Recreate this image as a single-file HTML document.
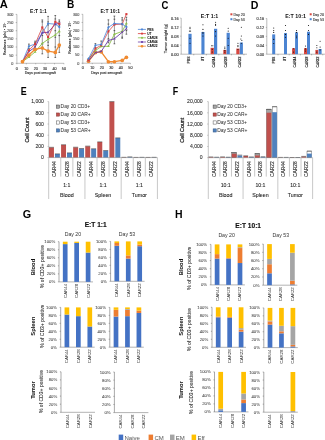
<!DOCTYPE html>
<html><head><meta charset="utf-8"><style>
html,body{margin:0;padding:0;background:#fff;width:325px;height:440px;overflow:hidden}
svg{display:block;will-change:transform}
text{font-family:"Liberation Sans",sans-serif}
</style></head><body>
<svg width="325" height="440" viewBox="0 0 325 440">
<rect x="0" y="0" width="325" height="440" fill="#fff"/>
<line x1="16.9" y1="14.4" x2="16.9" y2="63.3" stroke="#8a8a8a" stroke-width="0.55"/>
<line x1="16.9" y1="63.3" x2="63.9" y2="63.3" stroke="#8a8a8a" stroke-width="0.55"/>
<line x1="15.7" y1="63.3" x2="16.9" y2="63.3" stroke="#666" stroke-width="0.45"/>
<text x="13.4" y="64.7" font-size="3.8" text-anchor="end" fill="#444" stroke="#444" stroke-width="0.08">0</text>
<line x1="15.7" y1="55.15" x2="16.9" y2="55.15" stroke="#666" stroke-width="0.45"/>
<text x="13.4" y="56.55" font-size="3.8" text-anchor="end" fill="#444" stroke="#444" stroke-width="0.08">50</text>
<line x1="15.7" y1="47" x2="16.9" y2="47" stroke="#666" stroke-width="0.45"/>
<text x="13.4" y="48.4" font-size="3.8" text-anchor="end" fill="#444" stroke="#444" stroke-width="0.08">100</text>
<line x1="15.7" y1="38.85" x2="16.9" y2="38.85" stroke="#666" stroke-width="0.45"/>
<text x="13.4" y="40.25" font-size="3.8" text-anchor="end" fill="#444" stroke="#444" stroke-width="0.08">150</text>
<line x1="15.7" y1="30.7" x2="16.9" y2="30.7" stroke="#666" stroke-width="0.45"/>
<text x="13.4" y="32.1" font-size="3.8" text-anchor="end" fill="#444" stroke="#444" stroke-width="0.08">200</text>
<line x1="15.7" y1="22.55" x2="16.9" y2="22.55" stroke="#666" stroke-width="0.45"/>
<text x="13.4" y="23.95" font-size="3.8" text-anchor="end" fill="#444" stroke="#444" stroke-width="0.08">250</text>
<line x1="15.7" y1="14.4" x2="16.9" y2="14.4" stroke="#666" stroke-width="0.45"/>
<text x="13.4" y="15.8" font-size="3.8" text-anchor="end" fill="#444" stroke="#444" stroke-width="0.08">300</text>
<line x1="16.9" y1="63.3" x2="16.9" y2="64.3" stroke="#666" stroke-width="0.45"/>
<text x="16.9" y="69.5" font-size="3.7" text-anchor="middle" fill="#333" stroke="#333" stroke-width="0.12">0</text>
<line x1="26.3" y1="63.3" x2="26.3" y2="64.3" stroke="#666" stroke-width="0.45"/>
<text x="26.3" y="69.5" font-size="3.7" text-anchor="middle" fill="#333" stroke="#333" stroke-width="0.12">10</text>
<line x1="35.7" y1="63.3" x2="35.7" y2="64.3" stroke="#666" stroke-width="0.45"/>
<text x="35.7" y="69.5" font-size="3.7" text-anchor="middle" fill="#333" stroke="#333" stroke-width="0.12">20</text>
<line x1="45.1" y1="63.3" x2="45.1" y2="64.3" stroke="#666" stroke-width="0.45"/>
<text x="45.1" y="69.5" font-size="3.7" text-anchor="middle" fill="#333" stroke="#333" stroke-width="0.12">30</text>
<line x1="54.5" y1="63.3" x2="54.5" y2="64.3" stroke="#666" stroke-width="0.45"/>
<text x="54.5" y="69.5" font-size="3.7" text-anchor="middle" fill="#333" stroke="#333" stroke-width="0.12">40</text>
<line x1="63.9" y1="63.3" x2="63.9" y2="64.3" stroke="#666" stroke-width="0.45"/>
<text x="63.9" y="69.5" font-size="3.7" text-anchor="middle" fill="#333" stroke="#333" stroke-width="0.12">50</text>
<text x="40.4" y="74.1" font-size="3.5" text-anchor="middle" fill="#222" stroke="#222" stroke-width="0.1">Days post xenograft</text>
<text x="38.4" y="12.6" font-size="5" text-anchor="middle" font-weight="bold" fill="#111">E:T 1:1</text>
<text x="5.6" y="38.7" font-size="3.5" text-anchor="middle" font-weight="bold" fill="#222" transform="rotate(-90 5.6 38.7)">Radiance (p/s) • 10⁷</text>
<line x1="28.9" y1="44.07" x2="28.9" y2="48.47" stroke="#555" stroke-width="0.6"/>
<line x1="28.05" y1="44.07" x2="29.75" y2="44.07" stroke="#111" stroke-width="0.6"/>
<line x1="28.05" y1="48.47" x2="29.75" y2="48.47" stroke="#111" stroke-width="0.6"/>
<line x1="35.1" y1="41.13" x2="35.1" y2="46.18" stroke="#555" stroke-width="0.6"/>
<line x1="34.25" y1="41.13" x2="35.95" y2="41.13" stroke="#111" stroke-width="0.6"/>
<line x1="34.25" y1="42.44" x2="35.95" y2="42.44" stroke="#111" stroke-width="0.6"/>
<line x1="34.25" y1="46.18" x2="35.95" y2="46.18" stroke="#111" stroke-width="0.6"/>
<line x1="42.3" y1="19.94" x2="42.3" y2="53.85" stroke="#555" stroke-width="0.6"/>
<line x1="41.45" y1="19.94" x2="43.15" y2="19.94" stroke="#111" stroke-width="0.6"/>
<line x1="41.45" y1="21.9" x2="43.15" y2="21.9" stroke="#111" stroke-width="0.6"/>
<line x1="41.45" y1="35.59" x2="43.15" y2="35.59" stroke="#111" stroke-width="0.6"/>
<line x1="41.45" y1="43.74" x2="43.15" y2="43.74" stroke="#111" stroke-width="0.6"/>
<line x1="41.45" y1="53.85" x2="43.15" y2="53.85" stroke="#111" stroke-width="0.6"/>
<line x1="48.1" y1="16.36" x2="48.1" y2="57.43" stroke="#555" stroke-width="0.6"/>
<line x1="47.25" y1="16.36" x2="48.95" y2="16.36" stroke="#111" stroke-width="0.6"/>
<line x1="47.25" y1="21.9" x2="48.95" y2="21.9" stroke="#111" stroke-width="0.6"/>
<line x1="47.25" y1="24.99" x2="48.95" y2="24.99" stroke="#111" stroke-width="0.6"/>
<line x1="47.25" y1="42.11" x2="48.95" y2="42.11" stroke="#111" stroke-width="0.6"/>
<line x1="47.25" y1="45.37" x2="48.95" y2="45.37" stroke="#111" stroke-width="0.6"/>
<line x1="47.25" y1="57.43" x2="48.95" y2="57.43" stroke="#111" stroke-width="0.6"/>
<line x1="55.3" y1="15.54" x2="55.3" y2="57.43" stroke="#555" stroke-width="0.6"/>
<line x1="54.45" y1="15.54" x2="56.15" y2="15.54" stroke="#111" stroke-width="0.6"/>
<line x1="54.45" y1="18.96" x2="56.15" y2="18.96" stroke="#111" stroke-width="0.6"/>
<line x1="54.45" y1="30.7" x2="56.15" y2="30.7" stroke="#111" stroke-width="0.6"/>
<line x1="54.45" y1="37.22" x2="56.15" y2="37.22" stroke="#111" stroke-width="0.6"/>
<line x1="54.45" y1="47" x2="56.15" y2="47" stroke="#111" stroke-width="0.6"/>
<line x1="54.45" y1="57.43" x2="56.15" y2="57.43" stroke="#111" stroke-width="0.6"/>
<line x1="59.3" y1="19.94" x2="59.3" y2="52.38" stroke="#555" stroke-width="0.6"/>
<line x1="58.45" y1="19.94" x2="60.15" y2="19.94" stroke="#111" stroke-width="0.6"/>
<line x1="58.45" y1="21.73" x2="60.15" y2="21.73" stroke="#111" stroke-width="0.6"/>
<line x1="58.45" y1="25.81" x2="60.15" y2="25.81" stroke="#111" stroke-width="0.6"/>
<line x1="58.45" y1="35.59" x2="60.15" y2="35.59" stroke="#111" stroke-width="0.6"/>
<line x1="58.45" y1="47" x2="60.15" y2="47" stroke="#111" stroke-width="0.6"/>
<line x1="58.45" y1="52.38" x2="60.15" y2="52.38" stroke="#111" stroke-width="0.6"/>
<polyline points="22.5,61.67 28.9,46.18 35.1,44.07 42.3,32.98 48.1,23.53 55.3,24.18 59.3,27.11" fill="none" stroke="#4a84d8" stroke-width="0.8" stroke-linejoin="round"/>
<path d="M22.5 60.37l1.3 1.3l-1.3 1.3l-1.3 -1.3z" fill="#4a84d8"/>
<path d="M28.9 44.88l1.3 1.3l-1.3 1.3l-1.3 -1.3z" fill="#4a84d8"/>
<path d="M35.1 42.77l1.3 1.3l-1.3 1.3l-1.3 -1.3z" fill="#4a84d8"/>
<path d="M42.3 31.68l1.3 1.3l-1.3 1.3l-1.3 -1.3z" fill="#4a84d8"/>
<path d="M48.1 22.23l1.3 1.3l-1.3 1.3l-1.3 -1.3z" fill="#4a84d8"/>
<path d="M55.3 22.88l1.3 1.3l-1.3 1.3l-1.3 -1.3z" fill="#4a84d8"/>
<path d="M59.3 25.81l1.3 1.3l-1.3 1.3l-1.3 -1.3z" fill="#4a84d8"/>
<polyline points="22.5,61.67 28.9,51.56 35.1,47.16 42.3,32.66 48.1,32.33 55.3,24.18 59.3,23.36" fill="none" stroke="#6a3aa8" stroke-width="0.9" stroke-linejoin="round"/>
<path d="M21.6 60.77l1.8 1.8M23.4 60.77l-1.8 1.8" stroke="#6a3aa8" stroke-width="0.7"/>
<path d="M28 50.66l1.8 1.8M29.8 50.66l-1.8 1.8" stroke="#6a3aa8" stroke-width="0.7"/>
<path d="M34.2 46.26l1.8 1.8M36 46.26l-1.8 1.8" stroke="#6a3aa8" stroke-width="0.7"/>
<path d="M41.4 31.76l1.8 1.8M43.2 31.76l-1.8 1.8" stroke="#6a3aa8" stroke-width="0.7"/>
<path d="M47.2 31.43l1.8 1.8M49 31.43l-1.8 1.8" stroke="#6a3aa8" stroke-width="0.7"/>
<path d="M54.4 23.28l1.8 1.8M56.2 23.28l-1.8 1.8" stroke="#6a3aa8" stroke-width="0.7"/>
<path d="M58.4 22.46l1.8 1.8M60.2 22.46l-1.8 1.8" stroke="#6a3aa8" stroke-width="0.7"/>
<polyline points="22.5,61.67 28.9,50.26 35.1,44.07 42.3,27.44 48.1,37.22 55.3,21.73 59.3,23.85" fill="none" stroke="#d83a3a" stroke-width="0.75" stroke-linejoin="round"/>
<rect x="21.45" y="60.62" width="2.1" height="2.1" fill="#d83a3a"/>
<rect x="27.85" y="49.21" width="2.1" height="2.1" fill="#d83a3a"/>
<rect x="34.05" y="43.02" width="2.1" height="2.1" fill="#d83a3a"/>
<rect x="41.25" y="26.39" width="2.1" height="2.1" fill="#d83a3a"/>
<rect x="47.05" y="36.17" width="2.1" height="2.1" fill="#d83a3a"/>
<rect x="54.25" y="20.68" width="2.1" height="2.1" fill="#d83a3a"/>
<rect x="58.25" y="22.8" width="2.1" height="2.1" fill="#d83a3a"/>
<polyline points="22.5,61.67 28.9,57.11 35.1,51.89 42.3,43.41 48.1,39.34 55.3,34.94 59.3,31.35" fill="none" stroke="#8cc04a" stroke-width="0.9" stroke-linejoin="round"/>
<path d="M22.5 60.17l1.4 2.3h-2.8z" fill="#8cc04a"/>
<path d="M28.9 55.61l1.4 2.3h-2.8z" fill="#8cc04a"/>
<path d="M35.1 50.39l1.4 2.3h-2.8z" fill="#8cc04a"/>
<path d="M42.3 41.91l1.4 2.3h-2.8z" fill="#8cc04a"/>
<path d="M48.1 37.84l1.4 2.3h-2.8z" fill="#8cc04a"/>
<path d="M55.3 33.44l1.4 2.3h-2.8z" fill="#8cc04a"/>
<path d="M59.3 29.85l1.4 2.3h-2.8z" fill="#8cc04a"/>
<polyline points="22.5,61.67 28.9,54.99 35.1,49.28 42.3,47.98 48.1,51.07 55.3,52.38 59.3,45.04" fill="none" stroke="#f08a30" stroke-width="1.3" stroke-linejoin="round"/>
<circle cx="22.5" cy="61.67" r="1.85" fill="#f08a30"/>
<circle cx="28.9" cy="54.99" r="1.85" fill="#f08a30"/>
<circle cx="35.1" cy="49.28" r="1.85" fill="#f08a30"/>
<circle cx="42.3" cy="47.98" r="1.85" fill="#f08a30"/>
<circle cx="48.1" cy="51.07" r="1.85" fill="#f08a30"/>
<circle cx="55.3" cy="52.38" r="1.85" fill="#f08a30"/>
<circle cx="59.3" cy="45.04" r="1.85" fill="#f08a30"/>
<line x1="82.8" y1="14.3" x2="82.8" y2="63.2" stroke="#8a8a8a" stroke-width="0.55"/>
<line x1="82.8" y1="63.2" x2="130.4" y2="63.2" stroke="#8a8a8a" stroke-width="0.55"/>
<line x1="81.6" y1="63.2" x2="82.8" y2="63.2" stroke="#666" stroke-width="0.45"/>
<text x="79.3" y="64.6" font-size="3.8" text-anchor="end" fill="#444" stroke="#444" stroke-width="0.08">0</text>
<line x1="81.6" y1="55.05" x2="82.8" y2="55.05" stroke="#666" stroke-width="0.45"/>
<text x="79.3" y="56.45" font-size="3.8" text-anchor="end" fill="#444" stroke="#444" stroke-width="0.08">50</text>
<line x1="81.6" y1="46.9" x2="82.8" y2="46.9" stroke="#666" stroke-width="0.45"/>
<text x="79.3" y="48.3" font-size="3.8" text-anchor="end" fill="#444" stroke="#444" stroke-width="0.08">100</text>
<line x1="81.6" y1="38.75" x2="82.8" y2="38.75" stroke="#666" stroke-width="0.45"/>
<text x="79.3" y="40.15" font-size="3.8" text-anchor="end" fill="#444" stroke="#444" stroke-width="0.08">150</text>
<line x1="81.6" y1="30.6" x2="82.8" y2="30.6" stroke="#666" stroke-width="0.45"/>
<text x="79.3" y="32" font-size="3.8" text-anchor="end" fill="#444" stroke="#444" stroke-width="0.08">200</text>
<line x1="81.6" y1="22.45" x2="82.8" y2="22.45" stroke="#666" stroke-width="0.45"/>
<text x="79.3" y="23.85" font-size="3.8" text-anchor="end" fill="#444" stroke="#444" stroke-width="0.08">250</text>
<line x1="81.6" y1="14.3" x2="82.8" y2="14.3" stroke="#666" stroke-width="0.45"/>
<text x="79.3" y="15.7" font-size="3.8" text-anchor="end" fill="#444" stroke="#444" stroke-width="0.08">300</text>
<line x1="82.8" y1="63.2" x2="82.8" y2="64.2" stroke="#666" stroke-width="0.45"/>
<text x="82.8" y="69.4" font-size="3.7" text-anchor="middle" fill="#333" stroke="#333" stroke-width="0.12">0</text>
<line x1="92.32" y1="63.2" x2="92.32" y2="64.2" stroke="#666" stroke-width="0.45"/>
<text x="92.32" y="69.4" font-size="3.7" text-anchor="middle" fill="#333" stroke="#333" stroke-width="0.12">10</text>
<line x1="101.84" y1="63.2" x2="101.84" y2="64.2" stroke="#666" stroke-width="0.45"/>
<text x="101.84" y="69.4" font-size="3.7" text-anchor="middle" fill="#333" stroke="#333" stroke-width="0.12">20</text>
<line x1="111.36" y1="63.2" x2="111.36" y2="64.2" stroke="#666" stroke-width="0.45"/>
<text x="111.36" y="69.4" font-size="3.7" text-anchor="middle" fill="#333" stroke="#333" stroke-width="0.12">30</text>
<line x1="120.88" y1="63.2" x2="120.88" y2="64.2" stroke="#666" stroke-width="0.45"/>
<text x="120.88" y="69.4" font-size="3.7" text-anchor="middle" fill="#333" stroke="#333" stroke-width="0.12">40</text>
<line x1="130.4" y1="63.2" x2="130.4" y2="64.2" stroke="#666" stroke-width="0.45"/>
<text x="130.4" y="69.4" font-size="3.7" text-anchor="middle" fill="#333" stroke="#333" stroke-width="0.12">50</text>
<text x="106.6" y="74" font-size="3.5" text-anchor="middle" fill="#222" stroke="#222" stroke-width="0.1">Days post xenograft</text>
<text x="110.2" y="12.6" font-size="5" text-anchor="middle" font-weight="bold" fill="#111">E:T 10:1</text>
<text x="71.5" y="37.6" font-size="3.5" text-anchor="middle" font-weight="bold" fill="#222" transform="rotate(-90 71.5 37.6)">Radiance (p/s) • 10⁷</text>
<line x1="95.4" y1="43.64" x2="95.4" y2="47.88" stroke="#555" stroke-width="0.6"/>
<line x1="94.55" y1="43.64" x2="96.25" y2="43.64" stroke="#111" stroke-width="0.6"/>
<line x1="94.55" y1="47.88" x2="96.25" y2="47.88" stroke="#111" stroke-width="0.6"/>
<line x1="101.2" y1="41.03" x2="101.2" y2="44.78" stroke="#555" stroke-width="0.6"/>
<line x1="100.35" y1="41.03" x2="102.05" y2="41.03" stroke="#111" stroke-width="0.6"/>
<line x1="100.35" y1="44.78" x2="102.05" y2="44.78" stroke="#111" stroke-width="0.6"/>
<line x1="108.4" y1="19.84" x2="108.4" y2="42.83" stroke="#555" stroke-width="0.6"/>
<line x1="107.55" y1="19.84" x2="109.25" y2="19.84" stroke="#111" stroke-width="0.6"/>
<line x1="107.55" y1="24.08" x2="109.25" y2="24.08" stroke="#111" stroke-width="0.6"/>
<line x1="107.55" y1="38.75" x2="109.25" y2="38.75" stroke="#111" stroke-width="0.6"/>
<line x1="107.55" y1="42.83" x2="109.25" y2="42.83" stroke="#111" stroke-width="0.6"/>
<line x1="114.4" y1="16.09" x2="114.4" y2="43.8" stroke="#555" stroke-width="0.6"/>
<line x1="113.55" y1="16.09" x2="115.25" y2="16.09" stroke="#111" stroke-width="0.6"/>
<line x1="113.55" y1="19.19" x2="115.25" y2="19.19" stroke="#111" stroke-width="0.6"/>
<line x1="113.55" y1="30.6" x2="115.25" y2="30.6" stroke="#111" stroke-width="0.6"/>
<line x1="113.55" y1="43.8" x2="115.25" y2="43.8" stroke="#111" stroke-width="0.6"/>
<line x1="122.2" y1="17.72" x2="122.2" y2="38.26" stroke="#555" stroke-width="0.6"/>
<line x1="121.35" y1="17.72" x2="123.05" y2="17.72" stroke="#111" stroke-width="0.6"/>
<line x1="121.35" y1="20.01" x2="123.05" y2="20.01" stroke="#111" stroke-width="0.6"/>
<line x1="121.35" y1="37.12" x2="123.05" y2="37.12" stroke="#111" stroke-width="0.6"/>
<line x1="121.35" y1="38.26" x2="123.05" y2="38.26" stroke="#111" stroke-width="0.6"/>
<line x1="126.4" y1="17.23" x2="126.4" y2="34.19" stroke="#555" stroke-width="0.6"/>
<line x1="125.55" y1="17.23" x2="127.25" y2="17.23" stroke="#111" stroke-width="0.6"/>
<line x1="125.55" y1="20.01" x2="127.25" y2="20.01" stroke="#111" stroke-width="0.6"/>
<line x1="125.55" y1="30.6" x2="127.25" y2="30.6" stroke="#111" stroke-width="0.6"/>
<line x1="125.55" y1="34.19" x2="127.25" y2="34.19" stroke="#111" stroke-width="0.6"/>
<polyline points="88.5,61.24 95.4,52.61 101.2,51.79 108.4,61.73 114.4,61.73 122.2,60.43 126.4,57.33" fill="none" stroke="#f08a30" stroke-width="1.3" stroke-linejoin="round"/>
<circle cx="88.5" cy="61.24" r="1.85" fill="#f08a30"/>
<circle cx="95.4" cy="52.61" r="1.85" fill="#f08a30"/>
<circle cx="101.2" cy="51.79" r="1.85" fill="#f08a30"/>
<circle cx="108.4" cy="61.73" r="1.85" fill="#f08a30"/>
<circle cx="114.4" cy="61.73" r="1.85" fill="#f08a30"/>
<circle cx="122.2" cy="60.43" r="1.85" fill="#f08a30"/>
<circle cx="126.4" cy="57.33" r="1.85" fill="#f08a30"/>
<polyline points="88.5,59.12 95.4,50.49 101.2,46.57 108.4,46.25 114.4,34.19 122.2,31.42 126.4,23.43" fill="none" stroke="#8cc04a" stroke-width="0.9" stroke-linejoin="round"/>
<path d="M88.5 57.62l1.4 2.3h-2.8z" fill="#8cc04a"/>
<path d="M95.4 48.99l1.4 2.3h-2.8z" fill="#8cc04a"/>
<path d="M101.2 45.07l1.4 2.3h-2.8z" fill="#8cc04a"/>
<path d="M108.4 44.75l1.4 2.3h-2.8z" fill="#8cc04a"/>
<path d="M114.4 32.69l1.4 2.3h-2.8z" fill="#8cc04a"/>
<path d="M122.2 29.92l1.4 2.3h-2.8z" fill="#8cc04a"/>
<path d="M126.4 21.93l1.4 2.3h-2.8z" fill="#8cc04a"/>
<polyline points="88.5,60.76 95.4,52.61 101.2,51.46 108.4,40.54 114.4,38.75 122.2,32.23 126.4,28.64" fill="none" stroke="#6a3aa8" stroke-width="0.9" stroke-linejoin="round"/>
<path d="M87.6 59.86l1.8 1.8M89.4 59.86l-1.8 1.8" stroke="#6a3aa8" stroke-width="0.7"/>
<path d="M94.5 51.71l1.8 1.8M96.3 51.71l-1.8 1.8" stroke="#6a3aa8" stroke-width="0.7"/>
<path d="M100.3 50.56l1.8 1.8M102.1 50.56l-1.8 1.8" stroke="#6a3aa8" stroke-width="0.7"/>
<path d="M107.5 39.64l1.8 1.8M109.3 39.64l-1.8 1.8" stroke="#6a3aa8" stroke-width="0.7"/>
<path d="M113.5 37.85l1.8 1.8M115.3 37.85l-1.8 1.8" stroke="#6a3aa8" stroke-width="0.7"/>
<path d="M121.3 31.33l1.8 1.8M123.1 31.33l-1.8 1.8" stroke="#6a3aa8" stroke-width="0.7"/>
<path d="M125.5 27.74l1.8 1.8M127.3 27.74l-1.8 1.8" stroke="#6a3aa8" stroke-width="0.7"/>
<polyline points="88.5,59.94 95.4,48.53 101.2,45.27 108.4,31.42 114.4,24.57 122.2,24.08 126.4,14.14" fill="none" stroke="#d83a3a" stroke-width="0.75" stroke-linejoin="round"/>
<rect x="87.45" y="58.89" width="2.1" height="2.1" fill="#d83a3a"/>
<rect x="94.35" y="47.48" width="2.1" height="2.1" fill="#d83a3a"/>
<rect x="100.15" y="44.22" width="2.1" height="2.1" fill="#d83a3a"/>
<rect x="107.35" y="30.37" width="2.1" height="2.1" fill="#d83a3a"/>
<rect x="113.35" y="23.52" width="2.1" height="2.1" fill="#d83a3a"/>
<rect x="121.15" y="23.03" width="2.1" height="2.1" fill="#d83a3a"/>
<rect x="125.35" y="13.09" width="2.1" height="2.1" fill="#d83a3a"/>
<polyline points="88.5,58.64 95.4,45.27 101.2,44.45 108.4,27.34 114.4,23.43 122.2,24.08 126.4,26.85" fill="none" stroke="#4a84d8" stroke-width="0.8" stroke-linejoin="round"/>
<path d="M88.5 57.34l1.3 1.3l-1.3 1.3l-1.3 -1.3z" fill="#4a84d8"/>
<path d="M95.4 43.97l1.3 1.3l-1.3 1.3l-1.3 -1.3z" fill="#4a84d8"/>
<path d="M101.2 43.16l1.3 1.3l-1.3 1.3l-1.3 -1.3z" fill="#4a84d8"/>
<path d="M108.4 26.04l1.3 1.3l-1.3 1.3l-1.3 -1.3z" fill="#4a84d8"/>
<path d="M114.4 22.13l1.3 1.3l-1.3 1.3l-1.3 -1.3z" fill="#4a84d8"/>
<path d="M122.2 22.78l1.3 1.3l-1.3 1.3l-1.3 -1.3z" fill="#4a84d8"/>
<path d="M126.4 25.55l1.3 1.3l-1.3 1.3l-1.3 -1.3z" fill="#4a84d8"/>
<line x1="137.9" y1="29.4" x2="145.9" y2="29.4" stroke="#4a84d8" stroke-width="0.8"/>
<rect x="141.1" y="28.5" width="1.8" height="1.8" fill="#4a84d8"/>
<text x="147.2" y="30.6" font-size="3.2" text-anchor="start" font-weight="bold" fill="#000">PBS</text>
<line x1="137.9" y1="33.6" x2="145.9" y2="33.6" stroke="#d83a3a" stroke-width="0.8"/>
<rect x="141.1" y="32.7" width="1.8" height="1.8" fill="#d83a3a"/>
<text x="147.2" y="34.8" font-size="3.2" text-anchor="start" font-weight="bold" fill="#000">UT</text>
<line x1="137.9" y1="37.8" x2="145.9" y2="37.8" stroke="#8cc04a" stroke-width="0.8"/>
<rect x="141.1" y="36.9" width="1.8" height="1.8" fill="#8cc04a"/>
<text x="147.2" y="39" font-size="3.2" text-anchor="start" font-weight="bold" fill="#000">CAR28</text>
<line x1="137.9" y1="42" x2="145.9" y2="42" stroke="#6a3aa8" stroke-width="0.8"/>
<rect x="141.1" y="41.1" width="1.8" height="1.8" fill="#6a3aa8"/>
<text x="147.2" y="43.2" font-size="3.2" text-anchor="start" font-weight="bold" fill="#000">CAR44</text>
<line x1="137.9" y1="46.2" x2="145.9" y2="46.2" stroke="#f08a30" stroke-width="0.8"/>
<circle cx="142" cy="46.2" r="1.3" fill="#f08a30"/>
<text x="147.2" y="47.4" font-size="3.2" text-anchor="start" font-weight="bold" fill="#000">CAR22</text>
<text transform="translate(-0.3 7.8) scale(1 1)" x="0" y="0" font-size="11.2" font-weight="bold" fill="#000">A</text>
<text transform="translate(67 8) scale(0.92 1)" x="0" y="0" font-size="11" font-weight="bold" fill="#000">B</text>
<line x1="181.2" y1="18.1" x2="181.2" y2="54.2" stroke="#777" stroke-width="0.5"/>
<line x1="181.2" y1="54.2" x2="247" y2="54.2" stroke="#777" stroke-width="0.5"/>
<line x1="180.2" y1="54.2" x2="181.2" y2="54.2" stroke="#666" stroke-width="0.4"/>
<text x="178.6" y="55.6" font-size="3.9" text-anchor="end" fill="#333" stroke="#333" stroke-width="0.12">0.00</text>
<line x1="180.2" y1="45.18" x2="181.2" y2="45.18" stroke="#666" stroke-width="0.4"/>
<text x="178.6" y="46.58" font-size="3.9" text-anchor="end" fill="#333" stroke="#333" stroke-width="0.12">0.04</text>
<line x1="180.2" y1="36.15" x2="181.2" y2="36.15" stroke="#666" stroke-width="0.4"/>
<text x="178.6" y="37.55" font-size="3.9" text-anchor="end" fill="#333" stroke="#333" stroke-width="0.12">0.08</text>
<line x1="180.2" y1="27.12" x2="181.2" y2="27.12" stroke="#666" stroke-width="0.4"/>
<text x="178.6" y="28.52" font-size="3.9" text-anchor="end" fill="#333" stroke="#333" stroke-width="0.12">0.12</text>
<line x1="180.2" y1="18.1" x2="181.2" y2="18.1" stroke="#666" stroke-width="0.4"/>
<text x="178.6" y="19.5" font-size="3.9" text-anchor="end" fill="#333" stroke="#333" stroke-width="0.12">0.16</text>
<rect x="188.4" y="33.8" width="3.2" height="20.4" fill="#4b84d2"/>
<circle cx="190" cy="27.2" r="0.55" fill="#111"/>
<circle cx="190" cy="28.6" r="0.55" fill="#111"/>
<circle cx="189.4" cy="31.1" r="0.55" fill="#111"/>
<circle cx="190.6" cy="31.1" r="0.55" fill="#111"/>
<circle cx="190" cy="38.3" r="0.55" fill="#111"/>
<circle cx="190" cy="43.3" r="0.55" fill="#111"/>
<rect x="201.4" y="32" width="3.1" height="22.2" fill="#4b84d2"/>
<circle cx="202.95" cy="24.7" r="0.55" fill="#111"/>
<circle cx="202.95" cy="29.4" r="0.55" fill="#111"/>
<circle cx="202.95" cy="32.2" r="0.55" fill="#111"/>
<circle cx="202.95" cy="33.3" r="0.55" fill="#111"/>
<circle cx="202.95" cy="36" r="0.55" fill="#111"/>
<rect x="210.6" y="47.8" width="3.3" height="6.4" fill="#d8473f"/>
<circle cx="211.65" cy="45.7" r="0.55" fill="#111"/>
<circle cx="212.85" cy="45.7" r="0.55" fill="#111"/>
<circle cx="212.25" cy="49.3" r="0.55" fill="#111"/>
<circle cx="212.25" cy="52" r="0.55" fill="#111"/>
<rect x="214" y="28.8" width="3.2" height="25.4" fill="#4b84d2"/>
<circle cx="215.6" cy="22.2" r="0.55" fill="#111"/>
<circle cx="215.6" cy="24.4" r="0.55" fill="#111"/>
<circle cx="215.6" cy="25.5" r="0.55" fill="#111"/>
<circle cx="215.6" cy="31.6" r="0.55" fill="#111"/>
<circle cx="215.6" cy="36" r="0.55" fill="#111"/>
<rect x="223.3" y="49.9" width="3.1" height="4.3" fill="#d8473f"/>
<circle cx="224.85" cy="47.1" r="0.55" fill="#111"/>
<circle cx="224.85" cy="48.6" r="0.55" fill="#111"/>
<circle cx="224.85" cy="50.5" r="0.55" fill="#111"/>
<circle cx="224.85" cy="52.1" r="0.55" fill="#111"/>
<rect x="226.6" y="32.8" width="3.2" height="21.4" fill="#4b84d2"/>
<circle cx="228.2" cy="28.3" r="0.55" fill="#111"/>
<circle cx="228.2" cy="31.1" r="0.55" fill="#111"/>
<circle cx="228.2" cy="38.3" r="0.55" fill="#111"/>
<circle cx="228.2" cy="45.5" r="0.55" fill="#111"/>
<rect x="236.3" y="48.6" width="3.3" height="5.6" fill="#d8473f"/>
<circle cx="237.95" cy="43.3" r="0.55" fill="#111"/>
<circle cx="237.95" cy="45.5" r="0.55" fill="#111"/>
<circle cx="237.95" cy="46.6" r="0.55" fill="#111"/>
<circle cx="237.95" cy="49.5" r="0.55" fill="#111"/>
<rect x="239.8" y="42.5" width="3.1" height="11.7" fill="#4b84d2"/>
<circle cx="241.35" cy="27.2" r="0.55" fill="#111"/>
<circle cx="241.35" cy="36" r="0.55" fill="#111"/>
<circle cx="240.85" cy="39" r="0.55" fill="#111"/>
<circle cx="241.85" cy="40.5" r="0.55" fill="#111"/>
<circle cx="241.35" cy="43.3" r="0.55" fill="#111"/>
<text x="190.5" y="56.6" font-size="3.4" text-anchor="end" fill="#222" transform="rotate(-90 190.5 56.6)" stroke="#222" stroke-width="0.16">PBS</text>
<text x="203.6" y="56.6" font-size="3.4" text-anchor="end" fill="#222" transform="rotate(-90 203.6 56.6)" stroke="#222" stroke-width="0.16">UT</text>
<text x="214.9" y="56.6" font-size="3.4" text-anchor="end" fill="#222" transform="rotate(-90 214.9 56.6)" stroke="#222" stroke-width="0.16">CAR44</text>
<text x="227.5" y="56.6" font-size="3.4" text-anchor="end" fill="#222" transform="rotate(-90 227.5 56.6)" stroke="#222" stroke-width="0.16">CAR28</text>
<text x="240.7" y="56.6" font-size="3.4" text-anchor="end" fill="#222" transform="rotate(-90 240.7 56.6)" stroke="#222" stroke-width="0.16">CAR22</text>
<line x1="193.75" y1="54.2" x2="193.75" y2="55.3" stroke="#555" stroke-width="0.45"/>
<line x1="206.3" y1="54.2" x2="206.3" y2="55.3" stroke="#555" stroke-width="0.45"/>
<line x1="218.85" y1="54.2" x2="218.85" y2="55.3" stroke="#555" stroke-width="0.45"/>
<line x1="231.4" y1="54.2" x2="231.4" y2="55.3" stroke="#555" stroke-width="0.45"/>
<line x1="243.95" y1="54.2" x2="243.95" y2="55.3" stroke="#555" stroke-width="0.45"/>
<text x="209.5" y="17.9" font-size="5.3" text-anchor="middle" font-weight="bold" fill="#111">E:T 1:1</text>
<text x="167.5" y="38.6" font-size="3.9" text-anchor="middle" fill="#222" transform="rotate(-90 167.5 38.6)" stroke="#222" stroke-width="0.1">Tumor weight (g)</text>
<rect x="230.4" y="13.3" width="2" height="2" fill="#d8473f"/>
<text x="233.4" y="15.6" font-size="3.6" text-anchor="start" fill="#333" stroke="#333" stroke-width="0.1">Day 20</text>
<rect x="230.4" y="18.2" width="2" height="2" fill="#4b84d2"/>
<text x="233.4" y="20.5" font-size="3.6" text-anchor="start" fill="#333" stroke="#333" stroke-width="0.1">Day 53</text>
<line x1="266.8" y1="18.5" x2="266.8" y2="54.2" stroke="#777" stroke-width="0.5"/>
<line x1="266.8" y1="54.2" x2="325" y2="54.2" stroke="#777" stroke-width="0.5"/>
<line x1="265.8" y1="54.2" x2="266.8" y2="54.2" stroke="#666" stroke-width="0.4"/>
<text x="264.2" y="55.6" font-size="3.9" text-anchor="end" fill="#333" stroke="#333" stroke-width="0.12">0.00</text>
<line x1="265.8" y1="45.28" x2="266.8" y2="45.28" stroke="#666" stroke-width="0.4"/>
<text x="264.2" y="46.68" font-size="3.9" text-anchor="end" fill="#333" stroke="#333" stroke-width="0.12">0.04</text>
<line x1="265.8" y1="36.35" x2="266.8" y2="36.35" stroke="#666" stroke-width="0.4"/>
<text x="264.2" y="37.75" font-size="3.9" text-anchor="end" fill="#333" stroke="#333" stroke-width="0.12">0.08</text>
<line x1="265.8" y1="27.43" x2="266.8" y2="27.43" stroke="#666" stroke-width="0.4"/>
<text x="264.2" y="28.82" font-size="3.9" text-anchor="end" fill="#333" stroke="#333" stroke-width="0.12">0.12</text>
<line x1="265.8" y1="18.5" x2="266.8" y2="18.5" stroke="#666" stroke-width="0.4"/>
<text x="264.2" y="19.9" font-size="3.9" text-anchor="end" fill="#333" stroke="#333" stroke-width="0.12">0.16</text>
<rect x="272.2" y="34.4" width="3" height="19.8" fill="#4b84d2"/>
<circle cx="273.7" cy="28" r="0.55" fill="#111"/>
<circle cx="273.7" cy="30.5" r="0.55" fill="#111"/>
<circle cx="273.7" cy="32.4" r="0.55" fill="#111"/>
<circle cx="273.7" cy="39.4" r="0.55" fill="#111"/>
<circle cx="273.7" cy="43.5" r="0.55" fill="#111"/>
<rect x="284" y="33.1" width="3" height="21.1" fill="#4b84d2"/>
<circle cx="285.5" cy="25.5" r="0.55" fill="#111"/>
<circle cx="285.5" cy="30.5" r="0.55" fill="#111"/>
<circle cx="285.5" cy="34.4" r="0.55" fill="#111"/>
<circle cx="285.5" cy="37.2" r="0.55" fill="#111"/>
<rect x="292.1" y="48.2" width="3" height="6" fill="#d8473f"/>
<circle cx="293.6" cy="48.8" r="0.55" fill="#111"/>
<circle cx="293.6" cy="52.1" r="0.55" fill="#111"/>
<rect x="295.1" y="32.3" width="2.9" height="21.9" fill="#4b84d2"/>
<circle cx="296.55" cy="30.5" r="0.55" fill="#111"/>
<circle cx="296.55" cy="32.4" r="0.55" fill="#111"/>
<circle cx="296.55" cy="36" r="0.55" fill="#111"/>
<circle cx="296.55" cy="37.7" r="0.55" fill="#111"/>
<rect x="304" y="48.2" width="3" height="6" fill="#d8473f"/>
<circle cx="305.5" cy="46" r="0.55" fill="#111"/>
<circle cx="305.5" cy="48.9" r="0.55" fill="#111"/>
<circle cx="305.5" cy="51" r="0.55" fill="#111"/>
<rect x="307" y="31.7" width="3" height="22.5" fill="#4b84d2"/>
<circle cx="308.5" cy="25.5" r="0.55" fill="#111"/>
<circle cx="308.5" cy="30.5" r="0.55" fill="#111"/>
<circle cx="308.5" cy="34.4" r="0.55" fill="#111"/>
<rect x="315.4" y="49.9" width="2.9" height="4.3" fill="#d8473f"/>
<circle cx="316.85" cy="45.5" r="0.55" fill="#111"/>
<circle cx="316.85" cy="47.7" r="0.55" fill="#111"/>
<circle cx="316.85" cy="52.1" r="0.55" fill="#111"/>
<rect x="318.6" y="49" width="3" height="5.2" fill="#4b84d2"/>
<circle cx="320.1" cy="41.3" r="0.55" fill="#111"/>
<circle cx="320.1" cy="47.1" r="0.55" fill="#111"/>
<circle cx="320.1" cy="49.9" r="0.55" fill="#111"/>
<text x="274.7" y="56.6" font-size="3.4" text-anchor="end" fill="#222" transform="rotate(-90 274.7 56.6)" stroke="#222" stroke-width="0.16">PBS</text>
<text x="286.5" y="56.6" font-size="3.4" text-anchor="end" fill="#222" transform="rotate(-90 286.5 56.6)" stroke="#222" stroke-width="0.16">UT</text>
<text x="296.1" y="56.6" font-size="3.4" text-anchor="end" fill="#222" transform="rotate(-90 296.1 56.6)" stroke="#222" stroke-width="0.16">CAR44</text>
<text x="308" y="56.6" font-size="3.4" text-anchor="end" fill="#222" transform="rotate(-90 308 56.6)" stroke="#222" stroke-width="0.16">CAR28</text>
<text x="319.5" y="56.6" font-size="3.4" text-anchor="end" fill="#222" transform="rotate(-90 319.5 56.6)" stroke="#222" stroke-width="0.16">CAR22</text>
<line x1="278" y1="54.2" x2="278" y2="55.3" stroke="#555" stroke-width="0.45"/>
<line x1="289.2" y1="54.2" x2="289.2" y2="55.3" stroke="#555" stroke-width="0.45"/>
<line x1="300.4" y1="54.2" x2="300.4" y2="55.3" stroke="#555" stroke-width="0.45"/>
<line x1="311.6" y1="54.2" x2="311.6" y2="55.3" stroke="#555" stroke-width="0.45"/>
<line x1="322.8" y1="54.2" x2="322.8" y2="55.3" stroke="#555" stroke-width="0.45"/>
<text x="295.6" y="17.9" font-size="5.3" text-anchor="middle" font-weight="bold" fill="#111">E:T 10:1</text>
<rect x="309.7" y="13.3" width="2" height="2" fill="#d8473f"/>
<text x="312.7" y="15.6" font-size="3.6" text-anchor="start" fill="#333" stroke="#333" stroke-width="0.1">Day 20</text>
<rect x="309.7" y="18.2" width="2" height="2" fill="#4b84d2"/>
<text x="312.7" y="20.5" font-size="3.6" text-anchor="start" fill="#333" stroke="#333" stroke-width="0.1">Day 53</text>
<text transform="translate(161.6 8.6) scale(0.9 1)" x="0" y="0" font-size="10.6" font-weight="bold" fill="#000">C</text>
<text transform="translate(250.8 8.6) scale(1 1)" x="0" y="0" font-size="10.6" font-weight="bold" fill="#000">D</text>
<line x1="48.7" y1="101.6" x2="48.7" y2="157.6" stroke="#7f7f7f" stroke-width="0.45"/>
<line x1="47.5" y1="157.6" x2="48.7" y2="157.6" stroke="#7f7f7f" stroke-width="0.4"/>
<text x="43.9" y="159.3" font-size="5.1" text-anchor="end" fill="#333" stroke="#333" stroke-width="0.1">0</text>
<line x1="47.5" y1="146.4" x2="48.7" y2="146.4" stroke="#7f7f7f" stroke-width="0.4"/>
<text x="43.9" y="148.1" font-size="5.1" text-anchor="end" fill="#333" stroke="#333" stroke-width="0.1">200</text>
<line x1="47.5" y1="135.2" x2="48.7" y2="135.2" stroke="#7f7f7f" stroke-width="0.4"/>
<text x="43.9" y="136.9" font-size="5.1" text-anchor="end" fill="#333" stroke="#333" stroke-width="0.1">400</text>
<line x1="47.5" y1="124" x2="48.7" y2="124" stroke="#7f7f7f" stroke-width="0.4"/>
<text x="43.9" y="125.7" font-size="5.1" text-anchor="end" fill="#333" stroke="#333" stroke-width="0.1">600</text>
<line x1="47.5" y1="112.8" x2="48.7" y2="112.8" stroke="#7f7f7f" stroke-width="0.4"/>
<text x="43.9" y="114.5" font-size="5.1" text-anchor="end" fill="#333" stroke="#333" stroke-width="0.1">800</text>
<line x1="47.5" y1="101.6" x2="48.7" y2="101.6" stroke="#7f7f7f" stroke-width="0.4"/>
<text x="43.9" y="103.3" font-size="5.1" text-anchor="end" fill="#333" stroke="#333" stroke-width="0.1">1,000</text>
<text x="28.9" y="130.1" font-size="5.35" text-anchor="middle" fill="#222" transform="rotate(-90 28.9 130.1)" stroke="#222" stroke-width="0.25">Cell Count</text>
<rect x="49" y="147.5" width="4.95" height="10.1" fill="#c0504d"/>
<line x1="49" y1="147.3" x2="53.95" y2="147.3" stroke="#3a3a3a" stroke-width="0.55"/>
<rect x="54.92" y="154" width="4.95" height="3.6" fill="#4f81bd"/>
<line x1="54.92" y1="153.8" x2="59.87" y2="153.8" stroke="#3a3a3a" stroke-width="0.55"/>
<rect x="61.08" y="144.9" width="4.95" height="12.7" fill="#c0504d"/>
<line x1="61.08" y1="144.7" x2="66.03" y2="144.7" stroke="#3a3a3a" stroke-width="0.55"/>
<rect x="67" y="153" width="4.95" height="4.6" fill="#4f81bd"/>
<line x1="67" y1="152.8" x2="71.95" y2="152.8" stroke="#3a3a3a" stroke-width="0.55"/>
<rect x="73.16" y="147.4" width="4.95" height="10.2" fill="#c0504d"/>
<line x1="73.16" y1="147.2" x2="78.11" y2="147.2" stroke="#3a3a3a" stroke-width="0.55"/>
<rect x="79.08" y="148.7" width="4.95" height="8.9" fill="#4f81bd"/>
<line x1="79.08" y1="148.5" x2="84.03" y2="148.5" stroke="#3a3a3a" stroke-width="0.55"/>
<rect x="85.24" y="146.3" width="4.95" height="11.3" fill="#c0504d"/>
<line x1="85.24" y1="146.1" x2="90.19" y2="146.1" stroke="#3a3a3a" stroke-width="0.55"/>
<rect x="91.16" y="148.9" width="4.95" height="8.7" fill="#4f81bd"/>
<line x1="91.16" y1="148.7" x2="96.11" y2="148.7" stroke="#3a3a3a" stroke-width="0.55"/>
<rect x="97.32" y="142" width="4.95" height="15.6" fill="#c0504d"/>
<line x1="97.32" y1="141.8" x2="102.27" y2="141.8" stroke="#3a3a3a" stroke-width="0.55"/>
<rect x="103.24" y="150.7" width="4.95" height="6.9" fill="#4f81bd"/>
<line x1="103.24" y1="150.5" x2="108.19" y2="150.5" stroke="#3a3a3a" stroke-width="0.55"/>
<rect x="109.4" y="101.7" width="4.95" height="55.9" fill="#c0504d"/>
<line x1="109.4" y1="101.6" x2="114.35" y2="101.6" stroke="#3a3a3a" stroke-width="0.55"/>
<rect x="115.32" y="138" width="4.95" height="19.6" fill="#4f81bd"/>
<line x1="115.32" y1="137.8" x2="120.27" y2="137.8" stroke="#3a3a3a" stroke-width="0.55"/>
<rect x="121.48" y="157.4" width="4.95" height="0.2" fill="#c0504d"/>
<line x1="121.48" y1="157.3" x2="126.43" y2="157.3" stroke="#3a3a3a" stroke-width="0.55"/>
<rect x="127.4" y="157" width="4.95" height="0.6" fill="#4f81bd"/>
<line x1="127.4" y1="156.8" x2="132.35" y2="156.8" stroke="#3a3a3a" stroke-width="0.55"/>
<rect x="133.56" y="157.5" width="4.95" height="0.1" fill="#c0504d"/>
<line x1="133.56" y1="157.4" x2="138.51" y2="157.4" stroke="#3a3a3a" stroke-width="0.55"/>
<rect x="139.48" y="157.4" width="4.95" height="0.2" fill="#4f81bd"/>
<line x1="139.48" y1="157.3" x2="144.43" y2="157.3" stroke="#3a3a3a" stroke-width="0.55"/>
<rect x="145.64" y="157.5" width="4.95" height="0.1" fill="#c0504d"/>
<line x1="145.64" y1="157.4" x2="150.59" y2="157.4" stroke="#3a3a3a" stroke-width="0.55"/>
<rect x="151.56" y="157.4" width="4.95" height="0.2" fill="#4f81bd"/>
<line x1="151.56" y1="157.3" x2="156.51" y2="157.3" stroke="#3a3a3a" stroke-width="0.55"/>
<line x1="48.7" y1="157.6" x2="157.42" y2="157.6" stroke="#7f7f7f" stroke-width="0.5"/>
<line x1="48.7" y1="157.6" x2="48.7" y2="199" stroke="#aaa" stroke-width="0.65"/>
<line x1="60.78" y1="157.6" x2="60.78" y2="176.6" stroke="#aaa" stroke-width="0.65"/>
<line x1="72.86" y1="157.6" x2="72.86" y2="176.6" stroke="#aaa" stroke-width="0.65"/>
<line x1="84.94" y1="157.6" x2="84.94" y2="199" stroke="#aaa" stroke-width="0.65"/>
<line x1="97.02" y1="157.6" x2="97.02" y2="176.6" stroke="#aaa" stroke-width="0.65"/>
<line x1="109.1" y1="157.6" x2="109.1" y2="176.6" stroke="#aaa" stroke-width="0.65"/>
<line x1="121.18" y1="157.6" x2="121.18" y2="199" stroke="#aaa" stroke-width="0.65"/>
<line x1="133.26" y1="157.6" x2="133.26" y2="176.6" stroke="#aaa" stroke-width="0.65"/>
<line x1="145.34" y1="157.6" x2="145.34" y2="176.6" stroke="#aaa" stroke-width="0.65"/>
<line x1="157.42" y1="157.6" x2="157.42" y2="199" stroke="#aaa" stroke-width="0.65"/>
<text x="56.44" y="161.2" font-size="4.9" text-anchor="end" fill="#222" transform="rotate(-90 56.44 161.2)" stroke="#222" stroke-width="0.08">CAR44</text>
<text x="68.52" y="161.2" font-size="4.9" text-anchor="end" fill="#222" transform="rotate(-90 68.52 161.2)" stroke="#222" stroke-width="0.08">CAR28</text>
<text x="80.6" y="161.2" font-size="4.9" text-anchor="end" fill="#222" transform="rotate(-90 80.6 161.2)" stroke="#222" stroke-width="0.08">CAR22</text>
<text x="92.68" y="161.2" font-size="4.9" text-anchor="end" fill="#222" transform="rotate(-90 92.68 161.2)" stroke="#222" stroke-width="0.08">CAR44</text>
<text x="104.76" y="161.2" font-size="4.9" text-anchor="end" fill="#222" transform="rotate(-90 104.76 161.2)" stroke="#222" stroke-width="0.08">CAR28</text>
<text x="116.84" y="161.2" font-size="4.9" text-anchor="end" fill="#222" transform="rotate(-90 116.84 161.2)" stroke="#222" stroke-width="0.08">CAR22</text>
<text x="128.92" y="161.2" font-size="4.9" text-anchor="end" fill="#222" transform="rotate(-90 128.92 161.2)" stroke="#222" stroke-width="0.08">CAR44</text>
<text x="141" y="161.2" font-size="4.9" text-anchor="end" fill="#222" transform="rotate(-90 141 161.2)" stroke="#222" stroke-width="0.08">CAR28</text>
<text x="153.08" y="161.2" font-size="4.9" text-anchor="end" fill="#222" transform="rotate(-90 153.08 161.2)" stroke="#222" stroke-width="0.08">CAR22</text>
<text x="66.82" y="186.8" font-size="5.2" text-anchor="middle" fill="#222" stroke="#222" stroke-width="0.08">1:1</text>
<text x="66.82" y="197.2" font-size="5.3" text-anchor="middle" fill="#222" stroke="#222" stroke-width="0.08">Blood</text>
<text x="103.06" y="186.8" font-size="5.2" text-anchor="middle" fill="#222" stroke="#222" stroke-width="0.08">1:1</text>
<text x="103.06" y="197.2" font-size="5.3" text-anchor="middle" fill="#222" stroke="#222" stroke-width="0.08">Spleen</text>
<text x="139.3" y="186.8" font-size="5.2" text-anchor="middle" fill="#222" stroke="#222" stroke-width="0.08">1:1</text>
<text x="139.3" y="197.2" font-size="5.3" text-anchor="middle" fill="#222" stroke="#222" stroke-width="0.08">Tumor</text>
<rect x="56.4" y="105" width="3.2" height="3.2" fill="#a6a6a6" stroke="#333" stroke-width="0.45"/>
<text x="60.6" y="108.3" font-size="4.9" text-anchor="start" fill="#333" stroke="#333" stroke-width="0.04">Day 20 CD3+</text>
<rect x="56.4" y="112.95" width="3.2" height="3.2" fill="#c0504d" stroke="#7a2c2a" stroke-width="0.45"/>
<text x="60.6" y="116.25" font-size="4.9" text-anchor="start" fill="#333" stroke="#333" stroke-width="0.04">Day 20 CAR+</text>
<rect x="56.4" y="120.9" width="3.2" height="3.2" fill="#fff" stroke="#444" stroke-width="0.45"/>
<text x="60.6" y="124.2" font-size="4.9" text-anchor="start" fill="#333" stroke="#333" stroke-width="0.04">Day 53 CD3+</text>
<rect x="56.4" y="128.85" width="3.2" height="3.2" fill="#4f81bd" stroke="#2c4f7c" stroke-width="0.45"/>
<text x="60.6" y="132.15" font-size="4.9" text-anchor="start" fill="#333" stroke="#333" stroke-width="0.04">Day 53 CAR+</text>
<text transform="translate(20.7 95.4) scale(0.85 1)" x="0" y="0" font-size="10.5" font-weight="bold" fill="#000">E</text>
<line x1="208.3" y1="101.6" x2="208.3" y2="157.7" stroke="#7f7f7f" stroke-width="0.45"/>
<line x1="207.1" y1="157.7" x2="208.3" y2="157.7" stroke="#7f7f7f" stroke-width="0.4"/>
<text x="202.7" y="159.4" font-size="5.1" text-anchor="end" fill="#333" stroke="#333" stroke-width="0.1">0</text>
<line x1="207.1" y1="146.48" x2="208.3" y2="146.48" stroke="#7f7f7f" stroke-width="0.4"/>
<text x="202.7" y="148.18" font-size="5.1" text-anchor="end" fill="#333" stroke="#333" stroke-width="0.1">4,000</text>
<line x1="207.1" y1="135.26" x2="208.3" y2="135.26" stroke="#7f7f7f" stroke-width="0.4"/>
<text x="202.7" y="136.96" font-size="5.1" text-anchor="end" fill="#333" stroke="#333" stroke-width="0.1">8,000</text>
<line x1="207.1" y1="124.04" x2="208.3" y2="124.04" stroke="#7f7f7f" stroke-width="0.4"/>
<text x="202.7" y="125.74" font-size="5.1" text-anchor="end" fill="#333" stroke="#333" stroke-width="0.1">12,000</text>
<line x1="207.1" y1="112.82" x2="208.3" y2="112.82" stroke="#7f7f7f" stroke-width="0.4"/>
<text x="202.7" y="114.52" font-size="5.1" text-anchor="end" fill="#333" stroke="#333" stroke-width="0.1">16,000</text>
<line x1="207.1" y1="101.6" x2="208.3" y2="101.6" stroke="#7f7f7f" stroke-width="0.4"/>
<text x="202.7" y="103.3" font-size="5.1" text-anchor="end" fill="#333" stroke="#333" stroke-width="0.1">20,000</text>
<text x="184" y="130.15" font-size="5.35" text-anchor="middle" fill="#222" transform="rotate(-90 184 130.15)" stroke="#222" stroke-width="0.25">Cell Count</text>
<rect x="208.6" y="157.1" width="4.75" height="0.6" fill="#c0504d"/>
<line x1="208.6" y1="156.9" x2="213.35" y2="156.9" stroke="#3a3a3a" stroke-width="0.55"/>
<rect x="214.27" y="157.3" width="4.75" height="0.4" fill="#4f81bd"/>
<line x1="214.27" y1="157.2" x2="219.02" y2="157.2" stroke="#3a3a3a" stroke-width="0.55"/>
<rect x="220.19" y="157" width="4.75" height="0.7" fill="#c0504d"/>
<line x1="220.19" y1="156.8" x2="224.94" y2="156.8" stroke="#3a3a3a" stroke-width="0.55"/>
<rect x="225.86" y="157.2" width="4.75" height="0.5" fill="#4f81bd"/>
<line x1="225.86" y1="157.2" x2="230.61" y2="157.2" stroke="#3a3a3a" stroke-width="0.55"/>
<rect x="231.78" y="152.7" width="4.75" height="5" fill="#a6a6a6" stroke="#444" stroke-width="0.4"/>
<rect x="231.78" y="153.7" width="4.75" height="4" fill="#c0504d"/>
<line x1="231.78" y1="152.7" x2="236.53" y2="152.7" stroke="#3a3a3a" stroke-width="0.55"/>
<rect x="237.45" y="155.5" width="4.75" height="2.2" fill="#4f81bd"/>
<line x1="237.45" y1="155.1" x2="242.2" y2="155.1" stroke="#3a3a3a" stroke-width="0.55"/>
<rect x="243.37" y="155.9" width="4.75" height="1.8" fill="#c0504d"/>
<line x1="243.37" y1="155.8" x2="248.12" y2="155.8" stroke="#3a3a3a" stroke-width="0.55"/>
<rect x="249.04" y="157" width="4.75" height="0.7" fill="#4f81bd"/>
<line x1="249.04" y1="156.9" x2="253.79" y2="156.9" stroke="#3a3a3a" stroke-width="0.55"/>
<rect x="254.96" y="153.7" width="4.75" height="4" fill="#a6a6a6" stroke="#444" stroke-width="0.4"/>
<rect x="254.96" y="155.5" width="4.75" height="2.2" fill="#c0504d"/>
<line x1="254.96" y1="153.7" x2="259.71" y2="153.7" stroke="#3a3a3a" stroke-width="0.55"/>
<rect x="260.63" y="156.9" width="4.75" height="0.8" fill="#4f81bd"/>
<line x1="260.63" y1="156.7" x2="265.38" y2="156.7" stroke="#3a3a3a" stroke-width="0.55"/>
<rect x="266.55" y="109.3" width="4.75" height="48.4" fill="#a6a6a6" stroke="#444" stroke-width="0.4"/>
<rect x="266.55" y="112.7" width="4.75" height="45" fill="#c0504d"/>
<line x1="266.55" y1="109.3" x2="271.3" y2="109.3" stroke="#3a3a3a" stroke-width="0.55"/>
<rect x="272.22" y="106.8" width="4.75" height="50.9" fill="#fff" stroke="#444" stroke-width="0.4"/>
<rect x="272.22" y="112.2" width="4.75" height="45.5" fill="#4f81bd"/>
<line x1="272.22" y1="106.8" x2="276.97" y2="106.8" stroke="#3a3a3a" stroke-width="0.55"/>
<rect x="278.14" y="157.5" width="4.75" height="0.2" fill="#c0504d"/>
<line x1="278.14" y1="157.4" x2="282.89" y2="157.4" stroke="#3a3a3a" stroke-width="0.55"/>
<rect x="283.81" y="157.5" width="4.75" height="0.2" fill="#4f81bd"/>
<line x1="283.81" y1="157.4" x2="288.56" y2="157.4" stroke="#3a3a3a" stroke-width="0.55"/>
<rect x="289.73" y="157.5" width="4.75" height="0.2" fill="#c0504d"/>
<line x1="289.73" y1="157.5" x2="294.48" y2="157.5" stroke="#3a3a3a" stroke-width="0.55"/>
<rect x="295.4" y="157.5" width="4.75" height="0.2" fill="#4f81bd"/>
<line x1="295.4" y1="157.5" x2="300.15" y2="157.5" stroke="#3a3a3a" stroke-width="0.55"/>
<rect x="301.32" y="156.6" width="4.75" height="1.1" fill="#c0504d"/>
<line x1="301.32" y1="156.4" x2="306.07" y2="156.4" stroke="#3a3a3a" stroke-width="0.55"/>
<rect x="306.99" y="151.1" width="4.75" height="6.6" fill="#fff" stroke="#444" stroke-width="0.4"/>
<rect x="306.99" y="153.6" width="4.75" height="4.1" fill="#4f81bd"/>
<line x1="306.99" y1="151.1" x2="311.74" y2="151.1" stroke="#3a3a3a" stroke-width="0.55"/>
<line x1="208.3" y1="157.7" x2="312.61" y2="157.7" stroke="#7f7f7f" stroke-width="0.5"/>
<line x1="208.3" y1="157.7" x2="208.3" y2="199" stroke="#aaa" stroke-width="0.65"/>
<line x1="219.89" y1="157.7" x2="219.89" y2="176.6" stroke="#aaa" stroke-width="0.65"/>
<line x1="231.48" y1="157.7" x2="231.48" y2="176.6" stroke="#aaa" stroke-width="0.65"/>
<line x1="243.07" y1="157.7" x2="243.07" y2="199" stroke="#aaa" stroke-width="0.65"/>
<line x1="254.66" y1="157.7" x2="254.66" y2="176.6" stroke="#aaa" stroke-width="0.65"/>
<line x1="266.25" y1="157.7" x2="266.25" y2="176.6" stroke="#aaa" stroke-width="0.65"/>
<line x1="277.84" y1="157.7" x2="277.84" y2="199" stroke="#aaa" stroke-width="0.65"/>
<line x1="289.43" y1="157.7" x2="289.43" y2="176.6" stroke="#aaa" stroke-width="0.65"/>
<line x1="301.02" y1="157.7" x2="301.02" y2="176.6" stroke="#aaa" stroke-width="0.65"/>
<line x1="312.61" y1="157.7" x2="312.61" y2="199" stroke="#aaa" stroke-width="0.65"/>
<text x="215.79" y="161.2" font-size="4.9" text-anchor="end" fill="#222" transform="rotate(-90 215.79 161.2)" stroke="#222" stroke-width="0.08">CAR44</text>
<text x="227.38" y="161.2" font-size="4.9" text-anchor="end" fill="#222" transform="rotate(-90 227.38 161.2)" stroke="#222" stroke-width="0.08">CAR28</text>
<text x="238.97" y="161.2" font-size="4.9" text-anchor="end" fill="#222" transform="rotate(-90 238.97 161.2)" stroke="#222" stroke-width="0.08">CAR22</text>
<text x="250.56" y="161.2" font-size="4.9" text-anchor="end" fill="#222" transform="rotate(-90 250.56 161.2)" stroke="#222" stroke-width="0.08">CAR44</text>
<text x="262.16" y="161.2" font-size="4.9" text-anchor="end" fill="#222" transform="rotate(-90 262.16 161.2)" stroke="#222" stroke-width="0.08">CAR28</text>
<text x="273.75" y="161.2" font-size="4.9" text-anchor="end" fill="#222" transform="rotate(-90 273.75 161.2)" stroke="#222" stroke-width="0.08">CAR22</text>
<text x="285.33" y="161.2" font-size="4.9" text-anchor="end" fill="#222" transform="rotate(-90 285.33 161.2)" stroke="#222" stroke-width="0.08">CAR44</text>
<text x="296.93" y="161.2" font-size="4.9" text-anchor="end" fill="#222" transform="rotate(-90 296.93 161.2)" stroke="#222" stroke-width="0.08">CAR28</text>
<text x="308.51" y="161.2" font-size="4.9" text-anchor="end" fill="#222" transform="rotate(-90 308.51 161.2)" stroke="#222" stroke-width="0.08">CAR22</text>
<text x="225.69" y="186.8" font-size="5.2" text-anchor="middle" fill="#222" stroke="#222" stroke-width="0.08">10:1</text>
<text x="225.69" y="197.2" font-size="5.3" text-anchor="middle" fill="#222" stroke="#222" stroke-width="0.08">Blood</text>
<text x="260.46" y="186.8" font-size="5.2" text-anchor="middle" fill="#222" stroke="#222" stroke-width="0.08">10:1</text>
<text x="260.46" y="197.2" font-size="5.3" text-anchor="middle" fill="#222" stroke="#222" stroke-width="0.08">Spleen</text>
<text x="295.23" y="186.8" font-size="5.2" text-anchor="middle" fill="#222" stroke="#222" stroke-width="0.08">10:1</text>
<text x="295.23" y="197.2" font-size="5.3" text-anchor="middle" fill="#222" stroke="#222" stroke-width="0.08">Tumor</text>
<rect x="213.1" y="105" width="3.2" height="3.2" fill="#a6a6a6" stroke="#333" stroke-width="0.45"/>
<text x="217.3" y="108.3" font-size="4.9" text-anchor="start" fill="#333" stroke="#333" stroke-width="0.04">Day 20 CD3+</text>
<rect x="213.1" y="112.95" width="3.2" height="3.2" fill="#c0504d" stroke="#7a2c2a" stroke-width="0.45"/>
<text x="217.3" y="116.25" font-size="4.9" text-anchor="start" fill="#333" stroke="#333" stroke-width="0.04">Day 20 CAR+</text>
<rect x="213.1" y="120.9" width="3.2" height="3.2" fill="#fff" stroke="#444" stroke-width="0.45"/>
<text x="217.3" y="124.2" font-size="4.9" text-anchor="start" fill="#333" stroke="#333" stroke-width="0.04">Day 53 CD3+</text>
<rect x="213.1" y="128.85" width="3.2" height="3.2" fill="#4f81bd" stroke="#2c4f7c" stroke-width="0.45"/>
<text x="217.3" y="132.15" font-size="4.9" text-anchor="start" fill="#333" stroke="#333" stroke-width="0.04">Day 53 CAR+</text>
<text transform="translate(172.8 95.4) scale(0.85 1)" x="0" y="0" font-size="10.5" font-weight="bold" fill="#000">F</text>
<text transform="translate(22.8 217.9) scale(0.95 1)" x="0" y="0" font-size="11.4" font-weight="bold" fill="#000">G</text>
<text x="95.7" y="227.3" font-size="6.6" text-anchor="middle" font-weight="bold" fill="#111" stroke="#111" stroke-width="0.15">E:T 1:1</text>
<text x="72.9" y="236.2" font-size="5.2" text-anchor="middle" fill="#333">Day 20</text>
<text x="127" y="236.2" font-size="5.2" text-anchor="middle" fill="#333">Day 53</text>
<line x1="59" y1="241.7" x2="59" y2="281.9" stroke="#555" stroke-width="0.5"/>
<line x1="59" y1="281.9" x2="93" y2="281.9" stroke="#666" stroke-width="0.5"/>
<line x1="57.9" y1="281.9" x2="59" y2="281.9" stroke="#555" stroke-width="0.45"/>
<text x="55.2" y="283.4" font-size="4.25" text-anchor="end" fill="#444" stroke="#444" stroke-width="0.04">0%</text>
<line x1="57.9" y1="273.86" x2="59" y2="273.86" stroke="#555" stroke-width="0.45"/>
<text x="55.2" y="275.36" font-size="4.25" text-anchor="end" fill="#444" stroke="#444" stroke-width="0.04">20%</text>
<line x1="57.9" y1="265.82" x2="59" y2="265.82" stroke="#555" stroke-width="0.45"/>
<text x="55.2" y="267.32" font-size="4.25" text-anchor="end" fill="#444" stroke="#444" stroke-width="0.04">40%</text>
<line x1="57.9" y1="257.78" x2="59" y2="257.78" stroke="#555" stroke-width="0.45"/>
<text x="55.2" y="259.28" font-size="4.25" text-anchor="end" fill="#444" stroke="#444" stroke-width="0.04">60%</text>
<line x1="57.9" y1="249.74" x2="59" y2="249.74" stroke="#555" stroke-width="0.45"/>
<text x="55.2" y="251.24" font-size="4.25" text-anchor="end" fill="#444" stroke="#444" stroke-width="0.04">80%</text>
<line x1="57.9" y1="241.7" x2="59" y2="241.7" stroke="#555" stroke-width="0.45"/>
<text x="55.2" y="243.2" font-size="4.25" text-anchor="end" fill="#444" stroke="#444" stroke-width="0.04">100%</text>
<rect x="62.85" y="244.11" width="4.7" height="37.79" fill="#4472c4"/>
<rect x="62.85" y="241.7" width="4.7" height="2.41" fill="#ffc000"/>
<text x="66.7" y="283.9" font-size="4.35" text-anchor="end" fill="#333" transform="rotate(-90 66.7 283.9)">CAR44</text>
<rect x="74.3" y="242.91" width="4.7" height="38.99" fill="#4472c4"/>
<rect x="74.3" y="241.7" width="4.7" height="1.21" fill="#ffc000"/>
<text x="78.15" y="283.9" font-size="4.35" text-anchor="end" fill="#333" transform="rotate(-90 78.15 283.9)">CAR28</text>
<rect x="85.75" y="252.55" width="4.7" height="29.35" fill="#4472c4"/>
<rect x="85.75" y="241.7" width="4.7" height="10.85" fill="#ffc000"/>
<text x="89.6" y="283.9" font-size="4.35" text-anchor="end" fill="#333" transform="rotate(-90 89.6 283.9)">CAR22</text>
<text x="43.8" y="266.5" font-size="5.05" text-anchor="middle" fill="#222" transform="rotate(-90 43.8 266.5)" stroke="#222" stroke-width="0.06">% of CD3+ positive</text>
<text x="35.2" y="267" font-size="5.8" text-anchor="middle" font-weight="bold" fill="#111" transform="rotate(-90 35.2 267)">Blood</text>
<line x1="110.6" y1="241.4" x2="110.6" y2="281.3" stroke="#555" stroke-width="0.5"/>
<line x1="110.6" y1="281.3" x2="144.6" y2="281.3" stroke="#666" stroke-width="0.5"/>
<line x1="109.5" y1="281.3" x2="110.6" y2="281.3" stroke="#555" stroke-width="0.45"/>
<text x="106.8" y="282.8" font-size="4.25" text-anchor="end" fill="#444" stroke="#444" stroke-width="0.04">0%</text>
<line x1="109.5" y1="273.32" x2="110.6" y2="273.32" stroke="#555" stroke-width="0.45"/>
<text x="106.8" y="274.82" font-size="4.25" text-anchor="end" fill="#444" stroke="#444" stroke-width="0.04">20%</text>
<line x1="109.5" y1="265.34" x2="110.6" y2="265.34" stroke="#555" stroke-width="0.45"/>
<text x="106.8" y="266.84" font-size="4.25" text-anchor="end" fill="#444" stroke="#444" stroke-width="0.04">40%</text>
<line x1="109.5" y1="257.36" x2="110.6" y2="257.36" stroke="#555" stroke-width="0.45"/>
<text x="106.8" y="258.86" font-size="4.25" text-anchor="end" fill="#444" stroke="#444" stroke-width="0.04">60%</text>
<line x1="109.5" y1="249.38" x2="110.6" y2="249.38" stroke="#555" stroke-width="0.45"/>
<text x="106.8" y="250.88" font-size="4.25" text-anchor="end" fill="#444" stroke="#444" stroke-width="0.04">80%</text>
<line x1="109.5" y1="241.4" x2="110.6" y2="241.4" stroke="#555" stroke-width="0.45"/>
<text x="106.8" y="242.9" font-size="4.25" text-anchor="end" fill="#444" stroke="#444" stroke-width="0.04">100%</text>
<rect x="114.45" y="245.79" width="4.7" height="35.51" fill="#4472c4"/>
<rect x="114.45" y="243" width="4.7" height="2.79" fill="#ed7d31"/>
<rect x="114.45" y="241.4" width="4.7" height="1.6" fill="#ffc000"/>
<text x="118.3" y="283.3" font-size="4.35" text-anchor="end" fill="#333" transform="rotate(-90 118.3 283.3)">CAR44</text>
<rect x="125.9" y="258.56" width="4.7" height="22.74" fill="#4472c4"/>
<rect x="125.9" y="255.37" width="4.7" height="3.19" fill="#ed7d31"/>
<rect x="125.9" y="241.4" width="4.7" height="13.97" fill="#ffc000"/>
<text x="129.75" y="283.3" font-size="4.35" text-anchor="end" fill="#333" transform="rotate(-90 129.75 283.3)">CAR28</text>
<rect x="137.35" y="246.19" width="4.7" height="35.11" fill="#4472c4"/>
<rect x="137.35" y="244.59" width="4.7" height="1.6" fill="#ed7d31"/>
<rect x="137.35" y="241.4" width="4.7" height="3.19" fill="#ffc000"/>
<text x="141.2" y="283.3" font-size="4.35" text-anchor="end" fill="#333" transform="rotate(-90 141.2 283.3)">CAR22</text>
<line x1="60.7" y1="307.4" x2="60.7" y2="347.2" stroke="#555" stroke-width="0.5"/>
<line x1="60.7" y1="347.2" x2="94.7" y2="347.2" stroke="#666" stroke-width="0.5"/>
<line x1="59.6" y1="347.2" x2="60.7" y2="347.2" stroke="#555" stroke-width="0.45"/>
<text x="56.9" y="348.7" font-size="4.25" text-anchor="end" fill="#444" stroke="#444" stroke-width="0.04">0%</text>
<line x1="59.6" y1="339.24" x2="60.7" y2="339.24" stroke="#555" stroke-width="0.45"/>
<text x="56.9" y="340.74" font-size="4.25" text-anchor="end" fill="#444" stroke="#444" stroke-width="0.04">20%</text>
<line x1="59.6" y1="331.28" x2="60.7" y2="331.28" stroke="#555" stroke-width="0.45"/>
<text x="56.9" y="332.78" font-size="4.25" text-anchor="end" fill="#444" stroke="#444" stroke-width="0.04">40%</text>
<line x1="59.6" y1="323.32" x2="60.7" y2="323.32" stroke="#555" stroke-width="0.45"/>
<text x="56.9" y="324.82" font-size="4.25" text-anchor="end" fill="#444" stroke="#444" stroke-width="0.04">60%</text>
<line x1="59.6" y1="315.36" x2="60.7" y2="315.36" stroke="#555" stroke-width="0.45"/>
<text x="56.9" y="316.86" font-size="4.25" text-anchor="end" fill="#444" stroke="#444" stroke-width="0.04">80%</text>
<line x1="59.6" y1="307.4" x2="60.7" y2="307.4" stroke="#555" stroke-width="0.45"/>
<text x="56.9" y="308.9" font-size="4.25" text-anchor="end" fill="#444" stroke="#444" stroke-width="0.04">100%</text>
<rect x="64.55" y="314.56" width="4.7" height="32.64" fill="#4472c4"/>
<rect x="64.55" y="307.4" width="4.7" height="7.16" fill="#ffc000"/>
<text x="68.4" y="349.2" font-size="4.35" text-anchor="end" fill="#333" transform="rotate(-90 68.4 349.2)">CAR44</text>
<rect x="76" y="316.16" width="4.7" height="31.04" fill="#4472c4"/>
<rect x="76" y="307.4" width="4.7" height="8.76" fill="#ffc000"/>
<text x="79.85" y="349.2" font-size="4.35" text-anchor="end" fill="#333" transform="rotate(-90 79.85 349.2)">CAR28</text>
<rect x="87.45" y="326.5" width="4.7" height="20.7" fill="#4472c4"/>
<rect x="87.45" y="307.4" width="4.7" height="19.1" fill="#ffc000"/>
<text x="91.3" y="349.2" font-size="4.35" text-anchor="end" fill="#333" transform="rotate(-90 91.3 349.2)">CAR22</text>
<text x="43.8" y="326.2" font-size="5.05" text-anchor="middle" fill="#222" transform="rotate(-90 43.8 326.2)" stroke="#222" stroke-width="0.06">% of CD3+ positive</text>
<text x="35.2" y="326.2" font-size="5.8" text-anchor="middle" font-weight="bold" fill="#111" transform="rotate(-90 35.2 326.2)">Spleen</text>
<line x1="109.8" y1="307.4" x2="109.8" y2="347.2" stroke="#555" stroke-width="0.5"/>
<line x1="109.8" y1="347.2" x2="143.8" y2="347.2" stroke="#666" stroke-width="0.5"/>
<line x1="108.7" y1="347.2" x2="109.8" y2="347.2" stroke="#555" stroke-width="0.45"/>
<text x="106" y="348.7" font-size="4.25" text-anchor="end" fill="#444" stroke="#444" stroke-width="0.04">0%</text>
<line x1="108.7" y1="339.24" x2="109.8" y2="339.24" stroke="#555" stroke-width="0.45"/>
<text x="106" y="340.74" font-size="4.25" text-anchor="end" fill="#444" stroke="#444" stroke-width="0.04">20%</text>
<line x1="108.7" y1="331.28" x2="109.8" y2="331.28" stroke="#555" stroke-width="0.45"/>
<text x="106" y="332.78" font-size="4.25" text-anchor="end" fill="#444" stroke="#444" stroke-width="0.04">40%</text>
<line x1="108.7" y1="323.32" x2="109.8" y2="323.32" stroke="#555" stroke-width="0.45"/>
<text x="106" y="324.82" font-size="4.25" text-anchor="end" fill="#444" stroke="#444" stroke-width="0.04">60%</text>
<line x1="108.7" y1="315.36" x2="109.8" y2="315.36" stroke="#555" stroke-width="0.45"/>
<text x="106" y="316.86" font-size="4.25" text-anchor="end" fill="#444" stroke="#444" stroke-width="0.04">80%</text>
<line x1="108.7" y1="307.4" x2="109.8" y2="307.4" stroke="#555" stroke-width="0.45"/>
<text x="106" y="308.9" font-size="4.25" text-anchor="end" fill="#444" stroke="#444" stroke-width="0.04">100%</text>
<rect x="113.65" y="316.55" width="4.7" height="30.65" fill="#4472c4"/>
<rect x="113.65" y="309.79" width="4.7" height="6.77" fill="#ed7d31"/>
<rect x="113.65" y="307.4" width="4.7" height="2.39" fill="#ffc000"/>
<text x="117.5" y="349.2" font-size="4.35" text-anchor="end" fill="#333" transform="rotate(-90 117.5 349.2)">CAR44</text>
<rect x="125.1" y="316.16" width="4.7" height="31.04" fill="#4472c4"/>
<rect x="125.1" y="309.79" width="4.7" height="6.37" fill="#ed7d31"/>
<rect x="125.1" y="308.99" width="4.7" height="0.8" fill="#a5a5a5"/>
<rect x="125.1" y="307.4" width="4.7" height="1.59" fill="#ffc000"/>
<text x="128.95" y="349.2" font-size="4.35" text-anchor="end" fill="#333" transform="rotate(-90 128.95 349.2)">CAR28</text>
<rect x="136.55" y="312.97" width="4.7" height="34.23" fill="#4472c4"/>
<rect x="136.55" y="310.58" width="4.7" height="2.39" fill="#ed7d31"/>
<rect x="136.55" y="307.4" width="4.7" height="3.18" fill="#ffc000"/>
<text x="140.4" y="349.2" font-size="4.35" text-anchor="end" fill="#333" transform="rotate(-90 140.4 349.2)">CAR22</text>
<line x1="61" y1="371.8" x2="61" y2="412.3" stroke="#555" stroke-width="0.5"/>
<line x1="61" y1="412.3" x2="95" y2="412.3" stroke="#666" stroke-width="0.5"/>
<line x1="59.9" y1="412.3" x2="61" y2="412.3" stroke="#555" stroke-width="0.45"/>
<text x="57.2" y="413.8" font-size="4.25" text-anchor="end" fill="#444" stroke="#444" stroke-width="0.04">0%</text>
<line x1="59.9" y1="404.2" x2="61" y2="404.2" stroke="#555" stroke-width="0.45"/>
<text x="57.2" y="405.7" font-size="4.25" text-anchor="end" fill="#444" stroke="#444" stroke-width="0.04">20%</text>
<line x1="59.9" y1="396.1" x2="61" y2="396.1" stroke="#555" stroke-width="0.45"/>
<text x="57.2" y="397.6" font-size="4.25" text-anchor="end" fill="#444" stroke="#444" stroke-width="0.04">40%</text>
<line x1="59.9" y1="388" x2="61" y2="388" stroke="#555" stroke-width="0.45"/>
<text x="57.2" y="389.5" font-size="4.25" text-anchor="end" fill="#444" stroke="#444" stroke-width="0.04">60%</text>
<line x1="59.9" y1="379.9" x2="61" y2="379.9" stroke="#555" stroke-width="0.45"/>
<text x="57.2" y="381.4" font-size="4.25" text-anchor="end" fill="#444" stroke="#444" stroke-width="0.04">80%</text>
<line x1="59.9" y1="371.8" x2="61" y2="371.8" stroke="#555" stroke-width="0.45"/>
<text x="57.2" y="373.3" font-size="4.25" text-anchor="end" fill="#444" stroke="#444" stroke-width="0.04">100%</text>
<text x="68.7" y="414.3" font-size="4.35" text-anchor="end" fill="#333" transform="rotate(-90 68.7 414.3)">CAR44</text>
<text x="80.15" y="414.3" font-size="4.35" text-anchor="end" fill="#333" transform="rotate(-90 80.15 414.3)">CAR28</text>
<text x="91.6" y="414.3" font-size="4.35" text-anchor="end" fill="#333" transform="rotate(-90 91.6 414.3)">CAR22</text>
<text x="43.3" y="391.5" font-size="5.05" text-anchor="middle" fill="#222" transform="rotate(-90 43.3 391.5)" stroke="#222" stroke-width="0.06">% of CD3+ positive</text>
<text x="35.2" y="390" font-size="5.8" text-anchor="middle" font-weight="bold" fill="#111" transform="rotate(-90 35.2 390)">Tumor</text>
<line x1="114.4" y1="372" x2="114.4" y2="412.6" stroke="#555" stroke-width="0.5"/>
<line x1="114.4" y1="412.6" x2="148.4" y2="412.6" stroke="#666" stroke-width="0.5"/>
<line x1="113.3" y1="412.6" x2="114.4" y2="412.6" stroke="#555" stroke-width="0.45"/>
<text x="110.6" y="414.1" font-size="4.25" text-anchor="end" fill="#444" stroke="#444" stroke-width="0.04">0%</text>
<line x1="113.3" y1="404.48" x2="114.4" y2="404.48" stroke="#555" stroke-width="0.45"/>
<text x="110.6" y="405.98" font-size="4.25" text-anchor="end" fill="#444" stroke="#444" stroke-width="0.04">20%</text>
<line x1="113.3" y1="396.36" x2="114.4" y2="396.36" stroke="#555" stroke-width="0.45"/>
<text x="110.6" y="397.86" font-size="4.25" text-anchor="end" fill="#444" stroke="#444" stroke-width="0.04">40%</text>
<line x1="113.3" y1="388.24" x2="114.4" y2="388.24" stroke="#555" stroke-width="0.45"/>
<text x="110.6" y="389.74" font-size="4.25" text-anchor="end" fill="#444" stroke="#444" stroke-width="0.04">60%</text>
<line x1="113.3" y1="380.12" x2="114.4" y2="380.12" stroke="#555" stroke-width="0.45"/>
<text x="110.6" y="381.62" font-size="4.25" text-anchor="end" fill="#444" stroke="#444" stroke-width="0.04">80%</text>
<line x1="113.3" y1="372" x2="114.4" y2="372" stroke="#555" stroke-width="0.45"/>
<text x="110.6" y="373.5" font-size="4.25" text-anchor="end" fill="#444" stroke="#444" stroke-width="0.04">100%</text>
<text x="122.1" y="414.6" font-size="4.35" text-anchor="end" fill="#333" transform="rotate(-90 122.1 414.6)">CAR44</text>
<text x="133.55" y="414.6" font-size="4.35" text-anchor="end" fill="#333" transform="rotate(-90 133.55 414.6)">CAR28</text>
<text x="145" y="414.6" font-size="4.35" text-anchor="end" fill="#333" transform="rotate(-90 145 414.6)">CAR22</text>
<text transform="translate(175 217.9) scale(0.92 1)" x="0" y="0" font-size="11.4" font-weight="bold" fill="#000">H</text>
<text x="248.2" y="227.8" font-size="6.6" text-anchor="middle" font-weight="bold" fill="#111" stroke="#111" stroke-width="0.15">E:T 10:1</text>
<text x="226.6" y="237.3" font-size="5.2" text-anchor="middle" fill="#333">Day 20</text>
<text x="280.8" y="237.3" font-size="5.2" text-anchor="middle" fill="#333">Day 53</text>
<line x1="210.9" y1="244.4" x2="210.9" y2="284.9" stroke="#555" stroke-width="0.5"/>
<line x1="210.9" y1="284.9" x2="244.9" y2="284.9" stroke="#666" stroke-width="0.5"/>
<line x1="209.8" y1="284.9" x2="210.9" y2="284.9" stroke="#555" stroke-width="0.45"/>
<text x="207.1" y="286.4" font-size="4.25" text-anchor="end" fill="#444" stroke="#444" stroke-width="0.04">0%</text>
<line x1="209.8" y1="276.8" x2="210.9" y2="276.8" stroke="#555" stroke-width="0.45"/>
<text x="207.1" y="278.3" font-size="4.25" text-anchor="end" fill="#444" stroke="#444" stroke-width="0.04">20%</text>
<line x1="209.8" y1="268.7" x2="210.9" y2="268.7" stroke="#555" stroke-width="0.45"/>
<text x="207.1" y="270.2" font-size="4.25" text-anchor="end" fill="#444" stroke="#444" stroke-width="0.04">40%</text>
<line x1="209.8" y1="260.6" x2="210.9" y2="260.6" stroke="#555" stroke-width="0.45"/>
<text x="207.1" y="262.1" font-size="4.25" text-anchor="end" fill="#444" stroke="#444" stroke-width="0.04">60%</text>
<line x1="209.8" y1="252.5" x2="210.9" y2="252.5" stroke="#555" stroke-width="0.45"/>
<text x="207.1" y="254" font-size="4.25" text-anchor="end" fill="#444" stroke="#444" stroke-width="0.04">80%</text>
<line x1="209.8" y1="244.4" x2="210.9" y2="244.4" stroke="#555" stroke-width="0.45"/>
<text x="207.1" y="245.9" font-size="4.25" text-anchor="end" fill="#444" stroke="#444" stroke-width="0.04">100%</text>
<rect x="214.75" y="258.57" width="4.7" height="26.32" fill="#4472c4"/>
<rect x="214.75" y="254.12" width="4.7" height="4.45" fill="#ed7d31"/>
<rect x="214.75" y="244.4" width="4.7" height="9.72" fill="#ffc000"/>
<text x="218.6" y="286.9" font-size="4.35" text-anchor="end" fill="#333" transform="rotate(-90 218.6 286.9)">CAR44</text>
<rect x="226.2" y="258.57" width="4.7" height="26.32" fill="#4472c4"/>
<rect x="226.2" y="257.97" width="4.7" height="0.61" fill="#ed7d31"/>
<rect x="226.2" y="244.4" width="4.7" height="13.57" fill="#ffc000"/>
<text x="230.05" y="286.9" font-size="4.35" text-anchor="end" fill="#333" transform="rotate(-90 230.05 286.9)">CAR28</text>
<rect x="237.65" y="263.03" width="4.7" height="21.87" fill="#4472c4"/>
<rect x="237.65" y="248.05" width="4.7" height="14.98" fill="#ed7d31"/>
<rect x="237.65" y="247.24" width="4.7" height="0.81" fill="#a5a5a5"/>
<rect x="237.65" y="244.4" width="4.7" height="2.83" fill="#ffc000"/>
<text x="241.5" y="286.9" font-size="4.35" text-anchor="end" fill="#333" transform="rotate(-90 241.5 286.9)">CAR22</text>
<text x="191.3" y="268.2" font-size="5.05" text-anchor="middle" fill="#222" transform="rotate(-90 191.3 268.2)" stroke="#222" stroke-width="0.06">% of CD3+ positive</text>
<text x="183" y="267" font-size="5.8" text-anchor="middle" font-weight="bold" fill="#111" transform="rotate(-90 183 267)">Blood</text>
<line x1="263.3" y1="244.1" x2="263.3" y2="285.2" stroke="#555" stroke-width="0.5"/>
<line x1="263.3" y1="285.2" x2="297.3" y2="285.2" stroke="#666" stroke-width="0.5"/>
<line x1="262.2" y1="285.2" x2="263.3" y2="285.2" stroke="#555" stroke-width="0.45"/>
<text x="259.5" y="286.7" font-size="4.25" text-anchor="end" fill="#444" stroke="#444" stroke-width="0.04">0%</text>
<line x1="262.2" y1="276.98" x2="263.3" y2="276.98" stroke="#555" stroke-width="0.45"/>
<text x="259.5" y="278.48" font-size="4.25" text-anchor="end" fill="#444" stroke="#444" stroke-width="0.04">20%</text>
<line x1="262.2" y1="268.76" x2="263.3" y2="268.76" stroke="#555" stroke-width="0.45"/>
<text x="259.5" y="270.26" font-size="4.25" text-anchor="end" fill="#444" stroke="#444" stroke-width="0.04">40%</text>
<line x1="262.2" y1="260.54" x2="263.3" y2="260.54" stroke="#555" stroke-width="0.45"/>
<text x="259.5" y="262.04" font-size="4.25" text-anchor="end" fill="#444" stroke="#444" stroke-width="0.04">60%</text>
<line x1="262.2" y1="252.32" x2="263.3" y2="252.32" stroke="#555" stroke-width="0.45"/>
<text x="259.5" y="253.82" font-size="4.25" text-anchor="end" fill="#444" stroke="#444" stroke-width="0.04">80%</text>
<line x1="262.2" y1="244.1" x2="263.3" y2="244.1" stroke="#555" stroke-width="0.45"/>
<text x="259.5" y="245.6" font-size="4.25" text-anchor="end" fill="#444" stroke="#444" stroke-width="0.04">100%</text>
<rect x="267.15" y="273.28" width="4.7" height="11.92" fill="#4472c4"/>
<rect x="267.15" y="264.24" width="4.7" height="9.04" fill="#ed7d31"/>
<rect x="267.15" y="258.9" width="4.7" height="5.34" fill="#a5a5a5"/>
<rect x="267.15" y="244.1" width="4.7" height="14.8" fill="#ffc000"/>
<text x="271" y="287.2" font-size="4.35" text-anchor="end" fill="#333" transform="rotate(-90 271 287.2)">CAR44</text>
<text x="282.45" y="287.2" font-size="4.35" text-anchor="end" fill="#333" transform="rotate(-90 282.45 287.2)">CAR28</text>
<rect x="290.05" y="284.38" width="4.7" height="0.82" fill="#4472c4"/>
<rect x="290.05" y="280.68" width="4.7" height="3.7" fill="#ed7d31"/>
<rect x="290.05" y="252.73" width="4.7" height="27.95" fill="#a5a5a5"/>
<rect x="290.05" y="244.1" width="4.7" height="8.63" fill="#ffc000"/>
<text x="293.9" y="287.2" font-size="4.35" text-anchor="end" fill="#333" transform="rotate(-90 293.9 287.2)">CAR22</text>
<line x1="212" y1="307.3" x2="212" y2="347.3" stroke="#555" stroke-width="0.5"/>
<line x1="212" y1="347.3" x2="246" y2="347.3" stroke="#666" stroke-width="0.5"/>
<line x1="210.9" y1="347.3" x2="212" y2="347.3" stroke="#555" stroke-width="0.45"/>
<text x="208.2" y="348.8" font-size="4.25" text-anchor="end" fill="#444" stroke="#444" stroke-width="0.04">0%</text>
<line x1="210.9" y1="339.3" x2="212" y2="339.3" stroke="#555" stroke-width="0.45"/>
<text x="208.2" y="340.8" font-size="4.25" text-anchor="end" fill="#444" stroke="#444" stroke-width="0.04">20%</text>
<line x1="210.9" y1="331.3" x2="212" y2="331.3" stroke="#555" stroke-width="0.45"/>
<text x="208.2" y="332.8" font-size="4.25" text-anchor="end" fill="#444" stroke="#444" stroke-width="0.04">40%</text>
<line x1="210.9" y1="323.3" x2="212" y2="323.3" stroke="#555" stroke-width="0.45"/>
<text x="208.2" y="324.8" font-size="4.25" text-anchor="end" fill="#444" stroke="#444" stroke-width="0.04">60%</text>
<line x1="210.9" y1="315.3" x2="212" y2="315.3" stroke="#555" stroke-width="0.45"/>
<text x="208.2" y="316.8" font-size="4.25" text-anchor="end" fill="#444" stroke="#444" stroke-width="0.04">80%</text>
<line x1="210.9" y1="307.3" x2="212" y2="307.3" stroke="#555" stroke-width="0.45"/>
<text x="208.2" y="308.8" font-size="4.25" text-anchor="end" fill="#444" stroke="#444" stroke-width="0.04">100%</text>
<rect x="215.85" y="317.3" width="4.7" height="30" fill="#4472c4"/>
<rect x="215.85" y="316.5" width="4.7" height="0.8" fill="#ed7d31"/>
<rect x="215.85" y="307.3" width="4.7" height="9.2" fill="#ffc000"/>
<text x="219.7" y="349.3" font-size="4.35" text-anchor="end" fill="#333" transform="rotate(-90 219.7 349.3)">CAR44</text>
<rect x="227.3" y="317.7" width="4.7" height="29.6" fill="#4472c4"/>
<rect x="227.3" y="316.9" width="4.7" height="0.8" fill="#ed7d31"/>
<rect x="227.3" y="307.3" width="4.7" height="9.6" fill="#ffc000"/>
<text x="231.15" y="349.3" font-size="4.35" text-anchor="end" fill="#333" transform="rotate(-90 231.15 349.3)">CAR28</text>
<rect x="238.75" y="331.7" width="4.7" height="15.6" fill="#4472c4"/>
<rect x="238.75" y="329.7" width="4.7" height="2" fill="#ed7d31"/>
<rect x="238.75" y="328.1" width="4.7" height="1.6" fill="#a5a5a5"/>
<rect x="238.75" y="307.3" width="4.7" height="20.8" fill="#ffc000"/>
<text x="242.6" y="349.3" font-size="4.35" text-anchor="end" fill="#333" transform="rotate(-90 242.6 349.3)">CAR22</text>
<text x="191.3" y="329.4" font-size="5.05" text-anchor="middle" fill="#222" transform="rotate(-90 191.3 329.4)" stroke="#222" stroke-width="0.06">% of CD3+ positive</text>
<text x="183" y="326.2" font-size="5.8" text-anchor="middle" font-weight="bold" fill="#111" transform="rotate(-90 183 326.2)">Spleen</text>
<line x1="263.8" y1="307.9" x2="263.8" y2="347.6" stroke="#555" stroke-width="0.5"/>
<line x1="263.8" y1="347.6" x2="297.8" y2="347.6" stroke="#666" stroke-width="0.5"/>
<line x1="262.7" y1="347.6" x2="263.8" y2="347.6" stroke="#555" stroke-width="0.45"/>
<text x="260" y="349.1" font-size="4.25" text-anchor="end" fill="#444" stroke="#444" stroke-width="0.04">0%</text>
<line x1="262.7" y1="339.66" x2="263.8" y2="339.66" stroke="#555" stroke-width="0.45"/>
<text x="260" y="341.16" font-size="4.25" text-anchor="end" fill="#444" stroke="#444" stroke-width="0.04">20%</text>
<line x1="262.7" y1="331.72" x2="263.8" y2="331.72" stroke="#555" stroke-width="0.45"/>
<text x="260" y="333.22" font-size="4.25" text-anchor="end" fill="#444" stroke="#444" stroke-width="0.04">40%</text>
<line x1="262.7" y1="323.78" x2="263.8" y2="323.78" stroke="#555" stroke-width="0.45"/>
<text x="260" y="325.28" font-size="4.25" text-anchor="end" fill="#444" stroke="#444" stroke-width="0.04">60%</text>
<line x1="262.7" y1="315.84" x2="263.8" y2="315.84" stroke="#555" stroke-width="0.45"/>
<text x="260" y="317.34" font-size="4.25" text-anchor="end" fill="#444" stroke="#444" stroke-width="0.04">80%</text>
<line x1="262.7" y1="307.9" x2="263.8" y2="307.9" stroke="#555" stroke-width="0.45"/>
<text x="260" y="309.4" font-size="4.25" text-anchor="end" fill="#444" stroke="#444" stroke-width="0.04">100%</text>
<rect x="267.65" y="324.57" width="4.7" height="23.03" fill="#4472c4"/>
<rect x="267.65" y="321.4" width="4.7" height="3.18" fill="#ed7d31"/>
<rect x="267.65" y="320.6" width="4.7" height="0.79" fill="#a5a5a5"/>
<rect x="267.65" y="307.9" width="4.7" height="12.7" fill="#ffc000"/>
<text x="271.5" y="349.6" font-size="4.35" text-anchor="end" fill="#333" transform="rotate(-90 271.5 349.6)">CAR44</text>
<rect x="279.1" y="333.31" width="4.7" height="14.29" fill="#4472c4"/>
<rect x="279.1" y="331.32" width="4.7" height="1.99" fill="#ed7d31"/>
<rect x="279.1" y="325.76" width="4.7" height="5.56" fill="#a5a5a5"/>
<rect x="279.1" y="307.9" width="4.7" height="17.87" fill="#ffc000"/>
<text x="282.95" y="349.6" font-size="4.35" text-anchor="end" fill="#333" transform="rotate(-90 282.95 349.6)">CAR28</text>
<rect x="290.55" y="346.41" width="4.7" height="1.19" fill="#4472c4"/>
<rect x="290.55" y="344.82" width="4.7" height="1.59" fill="#ed7d31"/>
<rect x="290.55" y="326.16" width="4.7" height="18.66" fill="#a5a5a5"/>
<rect x="290.55" y="307.9" width="4.7" height="18.26" fill="#ffc000"/>
<text x="294.4" y="349.6" font-size="4.35" text-anchor="end" fill="#333" transform="rotate(-90 294.4 349.6)">CAR22</text>
<line x1="214.5" y1="371.9" x2="214.5" y2="411.9" stroke="#555" stroke-width="0.5"/>
<line x1="214.5" y1="411.9" x2="248.5" y2="411.9" stroke="#666" stroke-width="0.5"/>
<line x1="213.4" y1="411.9" x2="214.5" y2="411.9" stroke="#555" stroke-width="0.45"/>
<text x="210.7" y="413.4" font-size="4.25" text-anchor="end" fill="#444" stroke="#444" stroke-width="0.04">0%</text>
<line x1="213.4" y1="403.9" x2="214.5" y2="403.9" stroke="#555" stroke-width="0.45"/>
<text x="210.7" y="405.4" font-size="4.25" text-anchor="end" fill="#444" stroke="#444" stroke-width="0.04">20%</text>
<line x1="213.4" y1="395.9" x2="214.5" y2="395.9" stroke="#555" stroke-width="0.45"/>
<text x="210.7" y="397.4" font-size="4.25" text-anchor="end" fill="#444" stroke="#444" stroke-width="0.04">40%</text>
<line x1="213.4" y1="387.9" x2="214.5" y2="387.9" stroke="#555" stroke-width="0.45"/>
<text x="210.7" y="389.4" font-size="4.25" text-anchor="end" fill="#444" stroke="#444" stroke-width="0.04">60%</text>
<line x1="213.4" y1="379.9" x2="214.5" y2="379.9" stroke="#555" stroke-width="0.45"/>
<text x="210.7" y="381.4" font-size="4.25" text-anchor="end" fill="#444" stroke="#444" stroke-width="0.04">80%</text>
<line x1="213.4" y1="371.9" x2="214.5" y2="371.9" stroke="#555" stroke-width="0.45"/>
<text x="210.7" y="373.4" font-size="4.25" text-anchor="end" fill="#444" stroke="#444" stroke-width="0.04">100%</text>
<rect x="218.35" y="410.3" width="4.7" height="1.6" fill="#4472c4"/>
<rect x="218.35" y="408.7" width="4.7" height="1.6" fill="#a5a5a5"/>
<rect x="218.35" y="371.9" width="4.7" height="36.8" fill="#ffc000"/>
<text x="222.2" y="413.9" font-size="4.35" text-anchor="end" fill="#333" transform="rotate(-90 222.2 413.9)">CAR44</text>
<text x="233.65" y="413.9" font-size="4.35" text-anchor="end" fill="#333" transform="rotate(-90 233.65 413.9)">CAR28</text>
<rect x="241.25" y="403.1" width="4.7" height="8.8" fill="#4472c4"/>
<rect x="241.25" y="399.5" width="4.7" height="3.6" fill="#ed7d31"/>
<rect x="241.25" y="393.5" width="4.7" height="6" fill="#a5a5a5"/>
<rect x="241.25" y="371.9" width="4.7" height="21.6" fill="#ffc000"/>
<text x="245.1" y="413.9" font-size="4.35" text-anchor="end" fill="#333" transform="rotate(-90 245.1 413.9)">CAR22</text>
<text x="193.4" y="392.4" font-size="5.05" text-anchor="middle" fill="#222" transform="rotate(-90 193.4 392.4)" stroke="#222" stroke-width="0.06">% of CD3+ positive</text>
<text x="183" y="390" font-size="5.8" text-anchor="middle" font-weight="bold" fill="#111" transform="rotate(-90 183 390)">Tumor</text>
<line x1="263.8" y1="372" x2="263.8" y2="412.2" stroke="#555" stroke-width="0.5"/>
<line x1="263.8" y1="412.2" x2="297.8" y2="412.2" stroke="#666" stroke-width="0.5"/>
<line x1="262.7" y1="412.2" x2="263.8" y2="412.2" stroke="#555" stroke-width="0.45"/>
<text x="260" y="413.7" font-size="4.25" text-anchor="end" fill="#444" stroke="#444" stroke-width="0.04">0%</text>
<line x1="262.7" y1="404.16" x2="263.8" y2="404.16" stroke="#555" stroke-width="0.45"/>
<text x="260" y="405.66" font-size="4.25" text-anchor="end" fill="#444" stroke="#444" stroke-width="0.04">20%</text>
<line x1="262.7" y1="396.12" x2="263.8" y2="396.12" stroke="#555" stroke-width="0.45"/>
<text x="260" y="397.62" font-size="4.25" text-anchor="end" fill="#444" stroke="#444" stroke-width="0.04">40%</text>
<line x1="262.7" y1="388.08" x2="263.8" y2="388.08" stroke="#555" stroke-width="0.45"/>
<text x="260" y="389.58" font-size="4.25" text-anchor="end" fill="#444" stroke="#444" stroke-width="0.04">60%</text>
<line x1="262.7" y1="380.04" x2="263.8" y2="380.04" stroke="#555" stroke-width="0.45"/>
<text x="260" y="381.54" font-size="4.25" text-anchor="end" fill="#444" stroke="#444" stroke-width="0.04">80%</text>
<line x1="262.7" y1="372" x2="263.8" y2="372" stroke="#555" stroke-width="0.45"/>
<text x="260" y="373.5" font-size="4.25" text-anchor="end" fill="#444" stroke="#444" stroke-width="0.04">100%</text>
<text x="271.5" y="414.2" font-size="4.35" text-anchor="end" fill="#333" transform="rotate(-90 271.5 414.2)">CAR44</text>
<text x="282.95" y="414.2" font-size="4.35" text-anchor="end" fill="#333" transform="rotate(-90 282.95 414.2)">CAR28</text>
<rect x="290.55" y="410.99" width="4.7" height="1.21" fill="#a5a5a5"/>
<rect x="290.55" y="372" width="4.7" height="38.99" fill="#ffc000"/>
<text x="294.4" y="414.2" font-size="4.35" text-anchor="end" fill="#333" transform="rotate(-90 294.4 414.2)">CAR22</text>
<rect x="118.7" y="434.6" width="4.5" height="5.4" fill="#4472c4"/>
<text x="124.5" y="439.6" font-size="6" text-anchor="start" fill="#555">Naive</text>
<rect x="148.6" y="434.6" width="4.5" height="5.4" fill="#ed7d31"/>
<text x="154.4" y="439.6" font-size="6" text-anchor="start" fill="#555">CM</text>
<rect x="170" y="434.6" width="4.5" height="5.4" fill="#a5a5a5"/>
<text x="175.8" y="439.6" font-size="6" text-anchor="start" fill="#555">EM</text>
<rect x="191.6" y="434.6" width="4.5" height="5.4" fill="#ffc000"/>
<text x="197.4" y="439.6" font-size="6" text-anchor="start" fill="#555">Eff</text>
</svg></body></html>
